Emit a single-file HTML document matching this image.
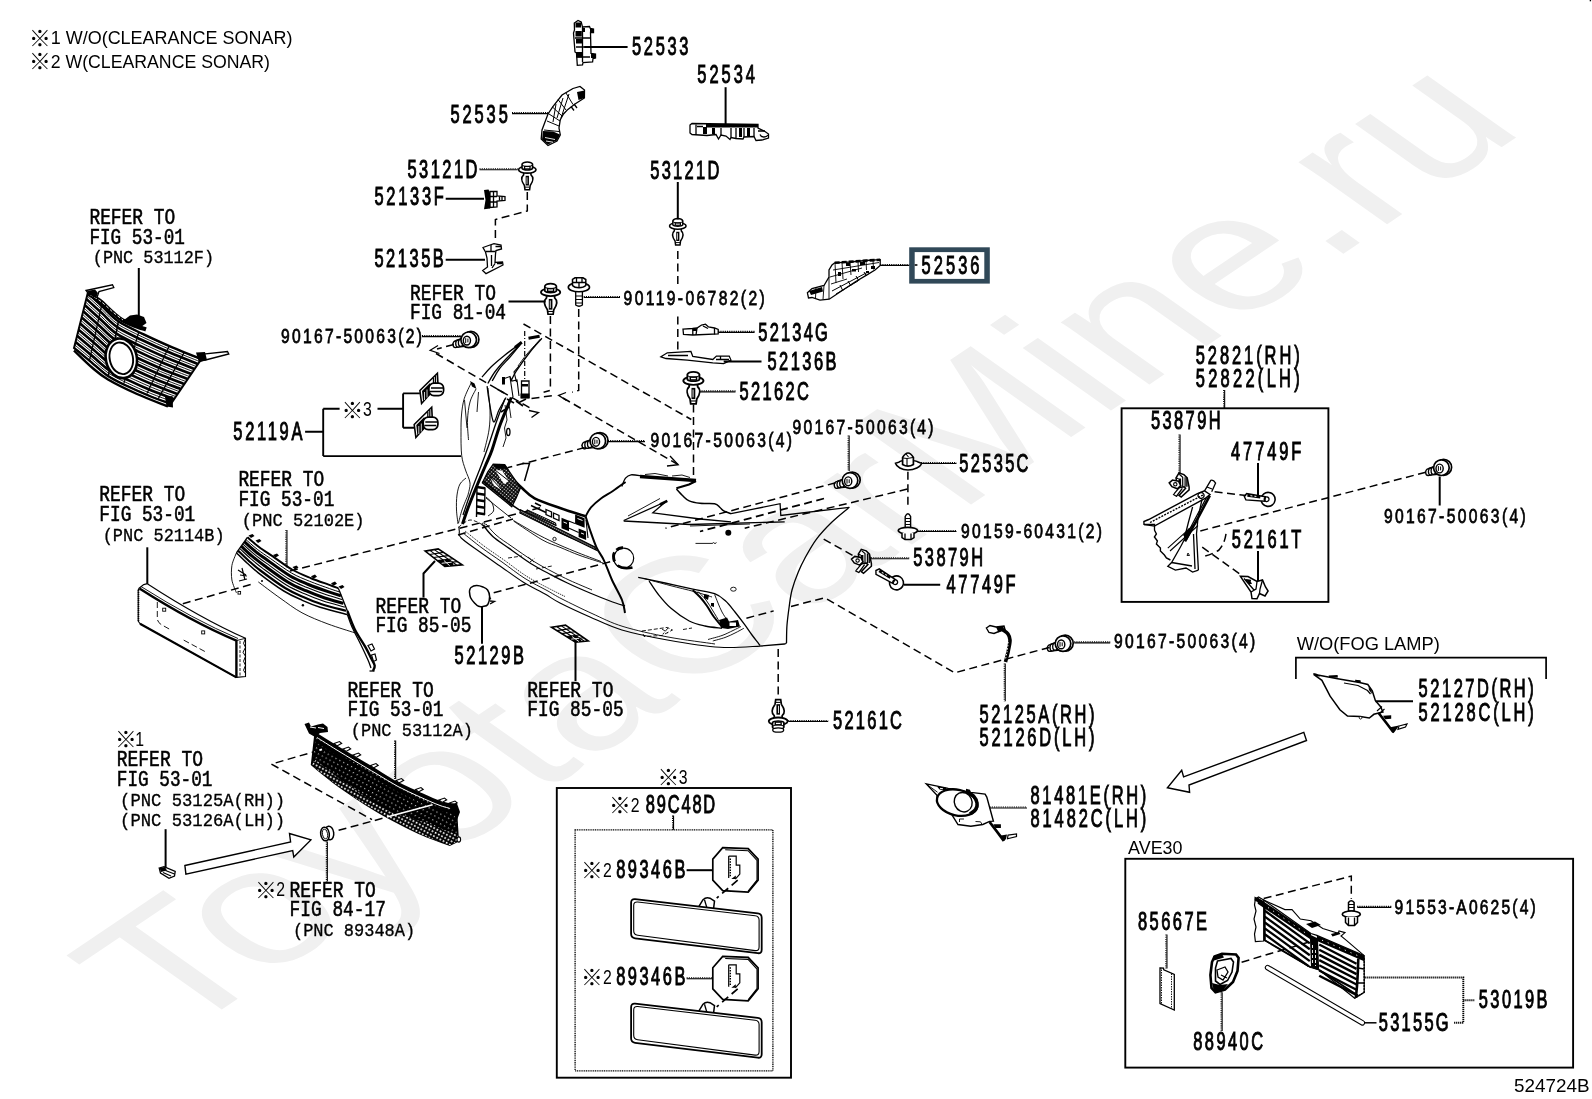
<!DOCTYPE html>
<html lang="en"><head><meta charset="utf-8"><title>524724B</title>
<style>
html,body{margin:0;padding:0;background:#fff}
body{width:1592px;height:1099px;overflow:hidden}
svg{display:block}
text{font-family:"Liberation Sans","Noto Sans CJK JP",sans-serif;fill:#000}
.wm{font-size:165px;fill:#f0f0f0}
.pn{font-size:24.9px;stroke:#000;stroke-width:1px}
.sn{font-size:20.6px;stroke:#000;stroke-width:.75px}
.rf{font-family:"Liberation Mono",monospace;font-size:21.6px;stroke:#000;stroke-width:.55px}
.pc{font-family:"Liberation Mono",monospace;font-size:18.6px;stroke:#000;stroke-width:.35px}
.ar{font-size:19px}
.km{font-size:21.8px;font-family:"Liberation Sans","Noto Sans CJK JP",sans-serif}
.kd{font-size:19.4px}
.l{fill:none;stroke:#000;stroke-width:1.3}
.t{fill:none;stroke:#000;stroke-width:.9}
.h{fill:none;stroke:#000;stroke-width:2}
.d{fill:none;stroke:#000;stroke-width:1.5;stroke-dasharray:8 4.5}
.dt{fill:none;stroke:#000;stroke-width:1.6;stroke-dasharray:1 1}
.f{fill:#000;stroke:none}
.lk{fill:none;stroke:#000;stroke-width:2}
.ld{fill:none;stroke:#000;stroke-width:1.9;stroke-dasharray:1.2 .8}
.ls{fill:none;stroke:#000;stroke-width:1.5}
.l1{fill:none;stroke:#000;stroke-width:1.1}
.l1d{fill:none;stroke:#000;stroke-width:1.1;stroke-dasharray:1.1 1.1}
.w{fill:#fff;stroke:#000;stroke-width:1.3}
</style></head>
<body>
<svg width="1592" height="1099" viewBox="0 0 1592 1099">
<rect width="1592" height="1099" fill="#fff"/>
<text class="wm" transform="translate(177.4,1039.3) scale(1.4486,1) rotate(-44.3)">ToyotaCarMine.ru</text>
<!-- boxes -->
<rect x="909.2" y="247.3" width="80.6" height="36.3" fill="#304858"/><rect x="914.7" y="252.1" width="69.6" height="26.8" fill="#fff"/><path d="M914.7 265H917.4" stroke="#000" stroke-width="1.6"/>
<rect class="l" x="1121.6" y="408.3" width="206.8" height="193.6" style="stroke-width:1.9"/>
<rect class="l" x="556.8" y="788" width="234.2" height="289.7" style="stroke-width:1.9"/>
<rect class="t" x="575.1" y="829.9" width="197.8" height="240.9" stroke-dasharray="1.1 .7" style="stroke-width:1.3"/>
<rect class="l" x="1125.3" y="858.8" width="447.8" height="208.8" style="stroke-width:1.9"/>
<path class="l" d="M1295.9 679V657.6H1546.1V679" style="stroke-width:1.7"/>

<rect x="1589.7" y="0" width="1.4" height="1.3" fill="#000"/>

<!-- sh_a -->
<clipPath id="cg"><path d="M87.8,292.8 C90.3,295.2 98.0,302.2 103.1,307.0 C108.2,311.7 111.7,316.6 118.4,321.1 C125.1,325.6 134.3,329.6 143.3,334.0 C152.3,338.3 162.7,343.1 172.4,347.2 C182.0,351.4 196.6,357.0 201.4,359.0 L170.8,404.1 C167.1,402.7 156.2,398.9 148.9,395.9 C141.6,392.9 133.8,389.5 127.0,386.2 C120.2,383.0 114.2,380.4 108.2,376.4 C102.2,372.4 96.8,367.0 91.1,362.2 C85.4,357.5 76.8,350.5 74.0,348.1 Z"/></clipPath>
<g clip-path="url(#cg)">
<path d="M87.8,292.8 C90.3,295.2 98.0,302.2 103.1,307.0 C108.2,311.7 111.7,316.6 118.4,321.1 C125.1,325.6 134.3,329.6 143.3,334.0 C152.3,338.3 162.7,343.1 172.4,347.2 C182.0,351.4 196.6,357.0 201.4,359.0 L170.8,404.1 C167.1,402.7 156.2,398.9 148.9,395.9 C141.6,392.9 133.8,389.5 127.0,386.2 C120.2,383.0 114.2,380.4 108.2,376.4 C102.2,372.4 96.8,367.0 91.1,362.2 C85.4,357.5 76.8,350.5 74.0,348.1 Z" fill="#fff"/>
<path class="l" d="M87.8,292.8 C90.3,295.2 98.0,302.2 103.1,307.0 C108.2,311.7 111.7,316.6 118.4,321.1 C125.1,325.6 134.3,329.6 143.3,334.0 C152.3,338.3 162.7,343.1 172.4,347.2 C182.0,351.4 196.6,357.0 201.4,359.0" style="stroke-width:2.7"/>
<path class="l" d="M87.0,295.9 C89.6,298.2 97.3,305.3 102.4,310.0 C107.6,314.7 111.2,319.7 117.8,324.2 C124.5,328.6 133.5,332.6 142.4,336.9 C151.3,341.2 161.5,345.8 171.0,349.9 C180.6,354.0 194.9,359.6 199.7,361.5" style="stroke-width:.9"/>
<path class="l" d="M86.3,298.9 C88.8,301.3 96.6,308.4 101.8,313.1 C106.9,317.8 110.6,322.8 117.3,327.2 C123.9,331.7 132.7,335.5 141.5,339.8 C150.2,344.0 160.3,348.6 169.7,352.6 C179.2,356.7 193.3,362.1 198.0,364.0" style="stroke-width:2.7"/>
<path class="l" d="M85.5,302.0 C88.1,304.4 95.9,311.4 101.1,316.2 C106.3,320.9 110.1,325.9 116.7,330.3 C123.3,334.7 132.0,338.5 140.6,342.7 C149.2,346.8 159.2,351.4 168.4,355.3 C177.7,359.3 191.7,364.7 196.3,366.5" style="stroke-width:.9"/>
<path class="l" d="M84.7,305.1 C87.3,307.4 95.2,314.5 100.4,319.2 C105.7,324.0 109.6,329.0 116.1,333.4 C122.7,337.8 131.2,341.5 139.7,345.6 C148.2,349.7 158.0,354.1 167.1,358.1 C176.3,362.0 190.0,367.2 194.6,369.0" style="stroke-width:2.7"/>
<path class="l" d="M84.0,308.2 C86.6,310.5 94.5,317.6 99.8,322.3 C105.0,327.0 109.1,332.1 115.6,336.5 C122.1,340.8 130.4,344.4 138.8,348.5 C147.1,352.5 156.8,356.9 165.8,360.8 C174.9,364.6 188.4,369.7 192.9,371.5" style="stroke-width:.9"/>
<path class="l" d="M83.2,311.2 C85.8,313.6 93.8,320.7 99.1,325.4 C104.4,330.1 108.5,335.2 115.0,339.5 C121.5,343.9 129.6,347.4 137.9,351.4 C146.1,355.4 155.6,359.7 164.5,363.5 C173.4,367.2 186.8,372.3 191.2,374.0" style="stroke-width:2.7"/>
<path class="l" d="M82.4,314.3 C85.1,316.7 93.1,323.7 98.4,328.5 C103.8,333.2 108.0,338.3 114.4,342.6 C120.9,346.9 128.8,350.4 137.0,354.3 C145.1,358.2 154.5,362.5 163.2,366.2 C172.0,369.9 185.1,374.8 189.5,376.5" style="stroke-width:.9"/>
<path class="l" d="M81.7,317.4 C84.3,319.7 92.4,326.8 97.8,331.5 C103.1,336.2 107.5,341.4 113.9,345.7 C120.2,350.0 128.0,353.3 136.0,357.2 C144.1,361.1 153.3,365.2 161.9,368.9 C170.5,372.5 183.5,377.3 187.8,379.0" style="stroke-width:2.7"/>
<path class="l" d="M80.9,320.4 C83.6,322.8 91.7,329.9 97.1,334.6 C102.5,339.3 107.0,344.5 113.3,348.8 C119.6,353.0 127.3,356.3 135.1,360.1 C143.0,363.9 152.1,368.0 160.6,371.6 C169.1,375.1 181.9,379.9 186.1,381.6" style="stroke-width:.9"/>
<path class="l" d="M80.1,323.5 C82.8,325.9 91.0,333.0 96.4,337.7 C101.9,342.4 106.4,347.6 112.7,351.8 C119.0,356.0 126.5,359.3 134.2,363.0 C142.0,366.7 151.0,370.8 159.3,374.3 C167.7,377.8 180.2,382.4 184.4,384.1" style="stroke-width:2.7"/>
<path class="l" d="M79.4,326.6 C82.1,329.0 90.3,336.0 95.8,340.7 C101.2,345.5 105.9,350.7 112.2,354.9 C118.4,359.1 125.7,362.2 133.3,365.9 C141.0,369.6 149.8,373.5 158.0,377.0 C166.2,380.4 178.6,385.0 182.7,386.6" style="stroke-width:.9"/>
<path class="l" d="M78.6,329.7 C81.3,332.0 89.6,339.1 95.1,343.8 C100.6,348.5 105.4,353.8 111.6,358.0 C117.8,362.1 124.9,365.2 132.4,368.8 C139.9,372.4 148.6,376.3 156.7,379.7 C164.8,383.1 177.0,387.5 181.0,389.1" style="stroke-width:2.7"/>
<path class="l" d="M77.8,332.7 C80.6,335.1 88.9,342.2 94.4,346.9 C100.0,351.6 104.9,356.9 111.0,361.0 C117.2,365.2 124.1,368.1 131.5,371.7 C138.9,375.3 147.4,379.1 155.4,382.4 C163.4,385.7 175.3,390.0 179.3,391.6" style="stroke-width:.9"/>
<path class="l" d="M77.1,335.8 C79.8,338.2 88.2,345.2 93.8,350.0 C99.3,354.7 104.3,360.0 110.5,364.1 C116.6,368.2 123.3,371.1 130.6,374.6 C137.9,378.1 146.3,381.8 154.1,385.1 C161.9,388.3 173.7,392.6 177.6,394.1" style="stroke-width:2.7"/>
<path class="l" d="M76.3,338.9 C79.1,341.2 87.5,348.3 93.1,353.0 C98.7,357.8 103.8,363.1 109.9,367.2 C116.0,371.3 122.6,374.1 129.7,377.5 C136.9,380.9 145.1,384.6 152.8,387.8 C160.5,391.0 172.1,395.1 175.9,396.6" style="stroke-width:.9"/>
<path class="l" d="M75.5,342.0 C78.3,344.3 86.8,351.4 92.4,356.1 C98.1,360.8 103.3,366.2 109.3,370.3 C115.4,374.3 121.8,377.0 128.8,380.4 C135.8,383.8 143.9,387.4 151.5,390.5 C159.1,393.6 170.4,397.7 174.2,399.1" style="stroke-width:2.7"/>
<path class="l" d="M74.8,345.0 C77.6,347.4 86.1,354.5 91.8,359.2 C97.4,363.9 102.7,369.3 108.8,373.3 C114.8,377.3 121.0,380.0 127.9,383.3 C134.8,386.6 142.8,390.2 150.2,393.2 C157.6,396.2 168.8,400.2 172.5,401.6" style="stroke-width:.9"/>
<path class="l" d="M74.0,348.1 C76.8,350.5 85.4,357.5 91.1,362.2 C96.8,367.0 102.2,372.4 108.2,376.4 C114.2,380.4 120.2,383.0 127.0,386.2 C133.8,389.5 141.6,392.9 148.9,395.9 C156.2,398.9 167.1,402.7 170.8,404.1" style="stroke-width:2.7"/>
<path class="l" d="M139.2,330.6 L123.9,383.3" style="stroke-width:1.2"/>
<path class="l" d="M169.9,344.6 L147.0,393.6" style="stroke-width:1.2"/>
<path class="l" d="M184.8,351.4 L158.3,398.6" style="stroke-width:1.2"/>
<path class="l" d="M118.4,321.1 L108.2,376.4" style="stroke-width:1.6"/>
<path class="l" d="M101.6,305.5 L89.4,360.8" style="stroke-width:1.2"/>
</g>
<path class="l" d="M87.8,292.8 C90.3,295.2 98.0,302.2 103.1,307.0 C108.2,311.7 111.7,316.6 118.4,321.1 C125.1,325.6 134.3,329.6 143.3,334.0 C152.3,338.3 162.7,343.1 172.4,347.2 C182.0,351.4 196.6,357.0 201.4,359.0 L170.8,404.1 C167.1,402.7 156.2,398.9 148.9,395.9 C141.6,392.9 133.8,389.5 127.0,386.2 C120.2,383.0 114.2,380.4 108.2,376.4 C102.2,372.4 96.8,367.0 91.1,362.2 C85.4,357.5 76.8,350.5 74.0,348.1 Z" style="stroke-width:2"/>
<path class="l" d="M88.5,294.0 C90.4,295.2 96.1,298.0 100.0,301.0 C103.9,304.0 108.3,308.8 112.0,312.0 C115.7,315.2 118.3,317.8 122.0,320.0 C125.7,322.2 130.0,323.9 134.0,325.5 C138.0,327.1 144.0,328.8 146.0,329.5" style="stroke-width:4.2"/>
<path class="" d="M90.0,294.5 C91.8,295.7 97.2,298.6 101.0,301.5 C104.8,304.4 109.3,309.1 113.0,312.2 C116.7,315.3 121.3,318.7 123.0,320.0" stroke="#fff" stroke-width=".9" fill="none" stroke-dasharray="3 2"/>
<path class="w" d="M86.0,290.5 L112.5,284.8 L113.8,287.6 L99.0,291.5 L97.0,297.5 L88.0,293.0 Z"/>
<path class="f" d="M87.0,291.0 L95.0,289.5 L98.0,293.0 L96.0,298.0 L89.0,294.0 Z"/>
<path class="w" d="M198.5,354.6 L227.5,351.5 L228.8,354.0 L205.5,360.0 L200.5,360.5 Z"/>
<path class="f" d="M196.0,352.5 L205.0,352.0 L207.0,360.0 L199.0,362.5 Z"/>
<path class="f" d="M124.0,320.0 L130.0,315.5 L137.0,314.5 L144.0,317.0 L146.5,323.0 L141.0,327.0 L130.0,325.5 Z"/>
<ellipse class="w" cx="121.3" cy="358.3" rx="15.5" ry="20" transform="rotate(-12 121.3 358.3)" style="stroke-width:2.6"/>
<ellipse class="w" cx="121.3" cy="358.3" rx="11.6" ry="16" transform="rotate(-12 121.3 358.3)" style="stroke-width:1.9"/>
<path class="l" d="M74.0,350.5 C77.0,353.3 86.3,362.7 92.0,367.5 C97.7,372.3 100.5,375.1 108.0,379.5 C115.5,383.9 127.0,389.5 137.0,394.0 C147.0,398.5 162.8,404.4 168.0,406.5" style="stroke-width:2.4"/>
<path class="f" d="M165.0,397.0 L172.5,396.0 L173.0,407.5 L166.5,406.5 Z"/>
<path class="lk" d="M138.8,268.0V323.0"/>
<path class="w" d="M578.0,20.5 L574.3,23.0 L574.5,30.0 L573.5,33.0 L575.0,52.0 L576.5,53.0 L577.3,65.4 L582.5,64.8 L583.0,62.5 L592.6,62.0 L593.0,58.5 L595.5,58.0 L595.5,54.0 L591.0,53.5 L590.5,32.5 L593.5,32.5 L593.5,29.0 L590.3,28.5 L589.5,26.5 L582.5,27.0 L581.2,22.0 Z"/>
<path class="l" d="M582.5,27V62 M575,38H590 M576,47H590 M577,57H590"/>
<rect class="f" x="575.5" y="22.5" width="5.5" height="5.0"/>
<rect class="f" x="575.5" y="31" width="6.2999999999999545" height="5.5"/>
<rect class="f" x="576" y="39" width="6" height="4.5"/>
<rect class="f" x="576" y="52" width="6" height="5.5"/>
<path class="f" d="M582,28h3v4h-3z M590,29h3.5v3.5h-3.5z M591,54h4.5v4h-4.5z"/>
<path class="lk" d="M584.3,47.0H627.6"/>
<path class="w" d="M573.0,88.5 L562.0,95.0 L552.7,106.9 L548.0,114.0 L545.0,122.0 L542.0,130.0 L541.2,139.0 L548.0,145.5 L557.0,141.0 L560.3,134.9 L559.0,128.0 L560.3,119.6 L563.5,114.0 L567.9,109.4 L575.0,104.0 L584.4,98.0 L584.5,90.0 L580.0,86.5 L573.0,88.5 Z"/>
<path class="l" d="M566,93L573,104.5 M558,99.5L566,110 M552.5,107L562,116 M549,114L560,121 M547,121L559,126 M556,104L553,122 M563,98 L557,118 M569,94L561,118 M544,130L559,131.5" style="stroke-width:1"/>
<path class="f" d="M577.0,92.0 L584.5,90.5 L584.5,98.0 L578.5,100.0 Z"/>
<path class="f" d="M543.0,131.0 L553.0,131.5 L560.0,134.5 L557.0,140.5 L548.0,144.5 L542.0,139.5 Z"/>
<path class="" d="M545,137.5L555,139.5 M546,141L553,142.2" stroke="#fff" stroke-width=".9" fill="none"/>
<path class="l" d="M574,104l3,4 M571,106.5l3,4"/>
<path class="l1" d="M512.0,113.65H548.7"/><path class="l1d" d="M512.0,112.65H548.7"/>
<path class="w" d="M690.0,125.0 L692.0,123.5 L758.0,124.5 L758.0,128.0 L765.0,131.5 L768.5,134.0 L768.5,138.0 L762.0,140.0 L756.0,140.5 L754.0,136.5 L744.0,137.0 L743.0,139.0 L736.0,138.5 L731.0,137.5 L730.0,139.5 L726.0,136.0 L721.0,135.0 L718.5,139.0 L716.0,134.5 L707.0,135.5 L692.0,134.5 L690.0,133.0 Z"/>
<path class="f" d="M706,124H758V127.5H706Z M703,127h4v7h-4z M712,128h3v6h-3z M739,128h3v9h-3z M747,128h3v8h-3z"/>
<path class="l" d="M696,124.5V134.5 M697,126.5H703 M721,128V135 M731,128V137.5 M736,128V138 M744,128V137 M754,128V136.5 M758,131H765 M760,134.5C761,137.5 766,138 768,135"/>
<path class="lk" d="M725.6,87.2V126.5"/>
<g transform="translate(527.3,169.5) scale(0.97)"><path class="w" d="M-3.6,2.5 L-3.8,5.5 C-6.6,8 -5.8,12.5 -3,16.5 L-2.4,20.8 L2.4,20.8 L3,16.5 C5.8,12.5 6.6,8 3.8,5.5 L3.6,2.5Z" style="stroke-width:1.6"/><path class="f" d="M-1.7,6.5 L-1.7,16.5 L1.7,16.5 L1.7,6.5Z"/><path d="M-0.3,8V15" stroke="#fff" stroke-width=".8"/><path class="l" d="M-2.4,18.2H2.4" style="stroke-width:1"/><ellipse class="w" cx="0" cy="0.2" rx="9" ry="3.6" style="stroke-width:1.7"/><path class="w" d="M-5.4,-1 L-5.4,-5.5 C-4,-8.6 4,-8.6 5.4,-5.5 L5.4,-1 C4,1 -4,1 -5.4,-1Z" style="stroke-width:1.6"/><rect class="w" x="-2.8" y="-3.2" width="5.6" height="2.6" style="stroke-width:1.3"/><path class="l" d="M-5.4,-4.5C-3,-2.5 3,-2.5 5.4,-4.5" style="stroke-width:1"/></g>
<path class="l1" d="M479.5,169.75H517.7"/><path class="l1d" d="M479.5,168.75H517.7"/>
<g transform="translate(550.6,292.0) scale(1.07)"><path class="w" d="M-3.6,2.5 L-3.8,5.5 C-6.6,8 -5.8,12.5 -3,16.5 L-2.4,20.8 L2.4,20.8 L3,16.5 C5.8,12.5 6.6,8 3.8,5.5 L3.6,2.5Z" style="stroke-width:1.6"/><path class="f" d="M-1.7,6.5 L-1.7,16.5 L1.7,16.5 L1.7,6.5Z"/><path d="M-0.3,8V15" stroke="#fff" stroke-width=".8"/><path class="l" d="M-2.4,18.2H2.4" style="stroke-width:1"/><ellipse class="w" cx="0" cy="0.2" rx="9" ry="3.6" style="stroke-width:1.7"/><path class="w" d="M-5.4,-1 L-5.4,-5.5 C-4,-8.6 4,-8.6 5.4,-5.5 L5.4,-1 C4,1 -4,1 -5.4,-1Z" style="stroke-width:1.6"/><rect class="w" x="-2.8" y="-3.2" width="5.6" height="2.6" style="stroke-width:1.3"/><path class="l" d="M-5.4,-4.5C-3,-2.5 3,-2.5 5.4,-4.5" style="stroke-width:1"/></g>
<path class="lk" d="M508.5,301.6H545.5"/>
<g transform="translate(677.8,225.8) scale(0.92)"><path class="w" d="M-3.6,2.5 L-3.8,5.5 C-6.6,8 -5.8,12.5 -3,16.5 L-2.4,20.8 L2.4,20.8 L3,16.5 C5.8,12.5 6.6,8 3.8,5.5 L3.6,2.5Z" style="stroke-width:1.6"/><path class="f" d="M-1.7,6.5 L-1.7,16.5 L1.7,16.5 L1.7,6.5Z"/><path d="M-0.3,8V15" stroke="#fff" stroke-width=".8"/><path class="l" d="M-2.4,18.2H2.4" style="stroke-width:1"/><ellipse class="w" cx="0" cy="0.2" rx="9" ry="3.6" style="stroke-width:1.7"/><path class="w" d="M-5.4,-1 L-5.4,-5.5 C-4,-8.6 4,-8.6 5.4,-5.5 L5.4,-1 C4,1 -4,1 -5.4,-1Z" style="stroke-width:1.6"/><rect class="w" x="-2.8" y="-3.2" width="5.6" height="2.6" style="stroke-width:1.3"/><path class="l" d="M-5.4,-4.5C-3,-2.5 3,-2.5 5.4,-4.5" style="stroke-width:1"/></g>
<path class="lk" d="M677.8,182.0V219.5"/>
<g transform="translate(693.4,380.6) scale(1.12)"><path class="w" d="M-3.6,2.5 L-3.8,5.5 C-6.6,8 -5.8,12.5 -3,16.5 L-2.4,20.8 L2.4,20.8 L3,16.5 C5.8,12.5 6.6,8 3.8,5.5 L3.6,2.5Z" style="stroke-width:1.6"/><path class="f" d="M-1.7,6.5 L-1.7,16.5 L1.7,16.5 L1.7,6.5Z"/><path d="M-0.3,8V15" stroke="#fff" stroke-width=".8"/><path class="l" d="M-2.4,18.2H2.4" style="stroke-width:1"/><ellipse class="w" cx="0" cy="0.2" rx="9" ry="3.6" style="stroke-width:1.7"/><path class="w" d="M-5.4,-1 L-5.4,-5.5 C-4,-8.6 4,-8.6 5.4,-5.5 L5.4,-1 C4,1 -4,1 -5.4,-1Z" style="stroke-width:1.6"/><rect class="w" x="-2.8" y="-3.2" width="5.6" height="2.6" style="stroke-width:1.3"/><path class="l" d="M-5.4,-4.5C-3,-2.5 3,-2.5 5.4,-4.5" style="stroke-width:1"/></g>
<path class="l1" d="M699.3,391.85H735.5"/><path class="l1d" d="M699.3,390.85H735.5"/>
<g transform="translate(778.2,721.5) rotate(180) scale(1.05)"><path class="w" d="M-3.6,2.5 L-3.8,5.5 C-6.6,8 -5.8,12.5 -3,16.5 L-2.4,20.8 L2.4,20.8 L3,16.5 C5.8,12.5 6.6,8 3.8,5.5 L3.6,2.5Z" style="stroke-width:1.6"/><path class="f" d="M-1.7,6.5 L-1.7,16.5 L1.7,16.5 L1.7,6.5Z"/><path d="M-0.3,8V15" stroke="#fff" stroke-width=".8"/><path class="l" d="M-2.4,18.2H2.4" style="stroke-width:1"/><ellipse class="w" cx="0" cy="0.2" rx="9" ry="3.6" style="stroke-width:1.7"/><path class="w" d="M-5.4,-1 L-5.4,-5.5 C-4,-8.6 4,-8.6 5.4,-5.5 L5.4,-1 C4,1 -4,1 -5.4,-1Z" style="stroke-width:1.6"/><rect class="w" x="-2.8" y="-3.2" width="5.6" height="2.6" style="stroke-width:1.3"/><path class="l" d="M-5.4,-4.5C-3,-2.5 3,-2.5 5.4,-4.5" style="stroke-width:1"/></g>
<ellipse class="w" cx="778.2" cy="730" rx="5.5" ry="2.2"/>
<path class="l1" d="M788.2,721.45H828.2"/><path class="l1d" d="M788.2,720.45H828.2"/>
<path class="f" d="M484.0,190.0 L488.5,189.5 L490.5,194.0 L490.0,208.5 L484.0,209.2 L485.5,200.0 Z"/>
<path class="w" d="M490.0,191.5 L497.0,191.5 L497.0,196.0 L505.0,196.5 L505.0,200.5 L497.0,201.0 L497.0,207.0 L490.0,207.5 Z"/>
<path class="l" d="M490,196.5H497 M490,202H497 M493.5,191.5V207 M499.5,196.5V200.5 M502,196.5V200.5"/>
<path class="lk" d="M445.7,198.8H484.0"/>
<path class="w" d="M483.0,247.5 L490.0,245.0 L494.0,243.6 L501.0,245.0 L501.5,249.0 L496.0,250.5 L495.5,254.0 L495.0,262.5 L502.5,262.0 L503.0,265.0 L486.0,273.6 L482.7,270.5 L487.5,267.0 L487.0,258.0 L485.5,252.0 Z"/>
<path class="l" d="M486,251.5H495.5 M491,245V251 M495.5,246.5H501 M491.5,255V266 M495,263.5L492,268 M497,263.5H502"/>
<path class="lk" d="M445.7,259.8H485.0"/>
<path class="w" d="M575.7,290 V305 Q579,307.5 582.4,305 V290Z"/>
<path class="l" d="M575.7,296H582.4 M575.7,299.5H582.4 M575.7,303H582.4" style="stroke-width:1"/>
<ellipse class="w" cx="578.9" cy="287.2" rx="10.6" ry="4.6" style="stroke-width:1.6"/>
<path class="w" d="M572.5,285.5 V279.5 L575,277.8 H583 L585.8,279.5 V285.5 C583,288.5 575,288.5 572.5,285.5Z" style="stroke-width:1.5"/>
<path class="l" d="M576.5,278V282.5H582V278 M572.5,282.5H576.5 M582,282.5H585.8 M579,282.5V287.5"/>
<path class="l1" d="M583.7,297.55H620.0"/><path class="l1d" d="M583.7,296.55H620.0"/>
<g transform="translate(469.7,339.4)"><path class="w" d="M-6,-1.5 L-13.5,1 L-16.8,4.6 L-14.5,8 L-5,7Z" style="stroke-width:1.3"/><ellipse class="w" cx="-14.3" cy="4.9" rx="2.4" ry="3.3" style="stroke-width:1.3"/><ellipse class="w" cx="-11.6" cy="4.2" rx="2.4" ry="3.5" style="stroke-width:1.3"/><ellipse class="w" cx="-8.9" cy="3.4" rx="2.4" ry="3.7" style="stroke-width:1.3"/><circle class="w" cx="1.2" cy="0" r="8" style="stroke-width:1.7"/><circle class="w" cx="-1" cy="0.4" r="7.8" style="stroke-width:1.7"/><ellipse class="l" cx="-2.8" cy="1.2" rx="3.6" ry="4.4" style="stroke-width:1.4"/><path class="l" d="M-4,-1.2 V3.6 M-1.8,-.8V3" style="stroke-width:1"/></g>
<path class="l1" d="M422.0,336.65H461.0"/><path class="l1d" d="M422.0,335.65H461.0"/>
<g transform="translate(598.8,440.6)"><path class="w" d="M-6,-1.5 L-13.5,1 L-16.8,4.6 L-14.5,8 L-5,7Z" style="stroke-width:1.3"/><ellipse class="w" cx="-14.3" cy="4.9" rx="2.4" ry="3.3" style="stroke-width:1.3"/><ellipse class="w" cx="-11.6" cy="4.2" rx="2.4" ry="3.5" style="stroke-width:1.3"/><ellipse class="w" cx="-8.9" cy="3.4" rx="2.4" ry="3.7" style="stroke-width:1.3"/><circle class="w" cx="1.2" cy="0" r="8" style="stroke-width:1.7"/><circle class="w" cx="-1" cy="0.4" r="7.8" style="stroke-width:1.7"/><ellipse class="l" cx="-2.8" cy="1.2" rx="3.6" ry="4.4" style="stroke-width:1.4"/><path class="l" d="M-4,-1.2 V3.6 M-1.8,-.8V3" style="stroke-width:1"/></g>
<path class="l1" d="M607.9,441.65H645.0"/><path class="l1d" d="M607.9,440.65H645.0"/>
<g transform="translate(851.0,480.1)"><path class="w" d="M-6,-1.5 L-13.5,1 L-16.8,4.6 L-14.5,8 L-5,7Z" style="stroke-width:1.3"/><ellipse class="w" cx="-14.3" cy="4.9" rx="2.4" ry="3.3" style="stroke-width:1.3"/><ellipse class="w" cx="-11.6" cy="4.2" rx="2.4" ry="3.5" style="stroke-width:1.3"/><ellipse class="w" cx="-8.9" cy="3.4" rx="2.4" ry="3.7" style="stroke-width:1.3"/><circle class="w" cx="1.2" cy="0" r="8" style="stroke-width:1.7"/><circle class="w" cx="-1" cy="0.4" r="7.8" style="stroke-width:1.7"/><ellipse class="l" cx="-2.8" cy="1.2" rx="3.6" ry="4.4" style="stroke-width:1.4"/><path class="l" d="M-4,-1.2 V3.6 M-1.8,-.8V3" style="stroke-width:1"/></g>
<path class="l1" d="M849.15,435.5V471.0"/><path class="l1d" d="M848.15,435.5V471.0"/>
<g transform="translate(1064.0,643.2)"><path class="w" d="M-6,-1.5 L-13.5,1 L-16.8,4.6 L-14.5,8 L-5,7Z" style="stroke-width:1.3"/><ellipse class="w" cx="-14.3" cy="4.9" rx="2.4" ry="3.3" style="stroke-width:1.3"/><ellipse class="w" cx="-11.6" cy="4.2" rx="2.4" ry="3.5" style="stroke-width:1.3"/><ellipse class="w" cx="-8.9" cy="3.4" rx="2.4" ry="3.7" style="stroke-width:1.3"/><circle class="w" cx="1.2" cy="0" r="8" style="stroke-width:1.7"/><circle class="w" cx="-1" cy="0.4" r="7.8" style="stroke-width:1.7"/><ellipse class="l" cx="-2.8" cy="1.2" rx="3.6" ry="4.4" style="stroke-width:1.4"/><path class="l" d="M-4,-1.2 V3.6 M-1.8,-.8V3" style="stroke-width:1"/></g>
<path class="l1" d="M1074.2,642.85H1110.2"/><path class="l1d" d="M1074.2,641.85H1110.2"/>
<g transform="translate(1442.4,467.3)"><path class="w" d="M-6,-1.5 L-13.5,1 L-16.8,4.6 L-14.5,8 L-5,7Z" style="stroke-width:1.3"/><ellipse class="w" cx="-14.3" cy="4.9" rx="2.4" ry="3.3" style="stroke-width:1.3"/><ellipse class="w" cx="-11.6" cy="4.2" rx="2.4" ry="3.5" style="stroke-width:1.3"/><ellipse class="w" cx="-8.9" cy="3.4" rx="2.4" ry="3.7" style="stroke-width:1.3"/><circle class="w" cx="1.2" cy="0" r="8" style="stroke-width:1.7"/><circle class="w" cx="-1" cy="0.4" r="7.8" style="stroke-width:1.7"/><ellipse class="l" cx="-2.8" cy="1.2" rx="3.6" ry="4.4" style="stroke-width:1.4"/><path class="l" d="M-4,-1.2 V3.6 M-1.8,-.8V3" style="stroke-width:1"/></g>
<path class="lk" d="M1439.7,476.5V505.5"/>
<path class="w" d="M807.4,292.8 L812.0,288.5 L824.0,285.5 L829.0,277.0 L829.0,270.0 L832.0,265.0 L834.7,262.8 L850.0,262.0 L866.0,260.5 L880.2,259.7 L880.2,265.5 L875.0,270.0 L867.4,274.6 L855.0,282.0 L843.0,290.0 L829.2,299.2 L820.0,300.2 L812.0,297.5 L808.5,298.0 Z"/>
<path class="l" d="M835,263L836,283 M842,262.5L843,279 M850,262L851,275 M858,261.5L858.5,272 M866,260.5L866.5,270 M873,260L873.5,269.5 M830,277L862,268 M831,284L847,279 M833,270L879,262.5 M829,277L829,299 M824,285.5L823,299.5 M816,287L815.5,298" style="stroke-width:.9"/>
<path class="f" d="M809.0,291.0 L822.0,287.0 L823.0,291.5 L811.0,295.0 Z"/>
<path class="f" d="M846,263h4v3h-4z M860,262h5v3h-5z M871,266h4v3h-4z M838,272h3v4h-3z M852,269h4v2.5h-4z M866,271h3v2h-3z"/>
<path class="l" d="M834.7,262.8L880.2,259.7" style="stroke-width:2.6" stroke-dasharray="5 2"/>
<path class="l" d="M832,291L868,272 M836,294L858,281 M840,285l3,6 M848,281l3,5 M856,276l3,5 M864,272l2.5,4" style="stroke-width:1"/>
<path class="l1" d="M880.2,265.45H909.3"/><path class="l1d" d="M880.2,264.45H909.3"/>
<path class="w" d="M683.0,329.2 L692.5,328.5 L697.0,328.0 L701.5,325.0 L705.5,324.2 L708.5,327.0 L714.5,328.0 L718.2,329.5 L718.2,334.0 L692.8,335.0 L683.5,334.5 Z"/>
<path class="l" d="M692.8,328.5V335 M697,328L696,335 M714.5,328V334.5 M703,326L708,328.5"/>
<path class="f" d="M692.8,328.5h4v2.5h-4z"/>
<path class="l1" d="M718.2,332.35H754.6"/><path class="l1d" d="M718.2,331.35H754.6"/>
<path class="w" d="M660.9,356.8 L667.3,352.8 L690.9,351.4 L692.8,356.5 L712.8,359.5 L716.4,356.1 L729.2,356.1 L731.0,360.1 L723.7,363.7 L712.8,362.8 L687.3,360.1 L666.0,358.5 Z"/>
<path class="l" d="M668,355.5H688 M716,359.5H729 M720.5,356.1V359.5"/>
<path class="lk" d="M723.7,361.4H761.5"/>
<!-- sh_b -->
<path class="d" d="M527.3,192V211L495.4,219.5V242"/>
<path class="d" d="M550.4,316V390.4L543.6,392.2"/>
<path class="d" d="M578.7,309V390.4L572.2,392.2"/>
<path class="d" d="M677.8,251V284.6 M677.8,316.4V351"/>
<path class="d" d="M523.5,324L691.3,419.5"/>
<path class="t" d="M524.7,331V382" stroke-dasharray="5 2 1 2" style="stroke-width:1.2"/>
<path class="d" d="M693.5,404.4V478.8"/>
<path class="d" d="M563,398L678.2,464.7"/>
<path class="l" d="M566,392.5L558.6,395.4L566.5,400.5 M670,456L678.2,464.7L667,466"/>
<path class="d" d="M531.5,398.4L555.6,395.4"/>
<path class="l" d="M529,410.5L538.5,412.5L531.5,417.5"/>
<path class="d" d="M453.8,344.5L437,349"/>
<path class="l" d="M438,345.5L430.2,350.3L439.5,353.5"/>
<path class="d" d="M436,353.5L531,408.5"/>
<path class="d" d="M584.8,447.6L507.4,467.7"/>
<path class="l" d="M522,463.5H529.5L524.5,481" style="stroke-width:1.5"/>
<path class="d" d="M182.8,603.7L253.7,583.7 M290,571L541.9,507.4"/>
<path class="d" d="M458,535L513,519"/>
<path class="d" d="M493.7,592.8L623.7,558.2"/>
<path class="d" d="M835.6,482.8L665.5,528.2"/>
<path class="d" d="M824,498.5L700,531.5" style="stroke-width:1.8"/>
<path class="d" d="M907.4,489.1L744.7,528.2"/>
<path class="d" d="M907.9,471.8V509"/>
<path class="d" d="M823.7,539.2L854.7,556.5"/>
<path class="d" d="M746.4,618.2L773.7,610.9 M791,606.4L824.6,597.8L954.7,672.8L1049.9,647.3"/>
<path class="d" d="M778.2,649.1V696.4"/>
<path class="d" d="M319.4,750.2L271.4,764.1L372,819.6 M338.6,830.3L432.6,804.7"/>
<path class="l" d="M521.8,342.3L515,347.5" style="stroke-width:3"/>
<path class="l" d="M521.5,342.7 C518.8,344.8 510.1,350.9 505.0,355.0 C499.9,359.1 494.8,363.3 491.0,367.0 C487.2,370.7 483.5,375.4 482.0,377.1"/>
<path class="l" d="M520.5,344.5 C518.1,346.9 510.3,354.4 506.0,359.0 C501.7,363.6 497.8,367.9 494.8,372.0 C491.8,376.1 489.0,381.6 487.8,383.5"/>
<path class="l" d="M519.5,345.5 C517.9,347.4 513.3,353.2 510.0,357.0 C506.7,360.8 502.9,364.2 499.9,368.2 C496.9,372.2 493.5,378.9 492.2,381.0"/>
<path class="l" d="M528.5,338.2L539.6,336.2" style="stroke-width:3"/>
<path class="l" d="M541.9,338.3 C539.9,340.6 534.2,346.6 530.0,352.0 C525.8,357.4 519.6,366.0 516.4,370.8 C513.2,375.6 511.9,379.3 511.0,381.0"/>
<path class="t" d="M540.5,339.0 C538.2,341.5 530.8,349.5 527.0,354.0 C523.2,358.5 519.5,364.0 518.0,366.0"/>
<path class="f" d="M470.0,381.0 L474.5,383.5 L476.5,389.0 L472.0,386.5 Z"/>
<path class="t" d="M471.2,382.9 C470.0,385.5 465.8,393.4 464.2,398.8 C462.6,404.2 462.0,409.5 461.5,415.0 C461.0,420.5 461.0,425.1 461.0,431.9 C461.0,438.6 460.9,449.1 461.7,455.5 C462.4,461.9 464.1,465.4 465.5,470.0 C466.9,474.6 469.6,478.8 470.0,483.0 C470.4,487.2 468.3,493.0 468.0,495.0"/>
<path class="t" d="M466.0,478.0 C465.0,479.0 461.5,481.2 460.0,484.0 C458.5,486.8 457.6,490.7 457.0,495.0 C456.4,499.3 456.3,505.2 456.5,510.0 C456.7,514.8 457.8,521.7 458.0,524.0"/>
<path class="t" d="M476.0,389.0 C475.0,391.2 471.4,396.8 470.0,402.0 C468.6,407.2 467.8,413.7 467.5,420.0 C467.2,426.3 468.3,436.7 468.5,440.0"/>
<path class="t" d="M478.5,392L477,412 M464.5,400L467,428"/>
<path class="l" d="M511.3,397.5 C509.4,402.1 503.2,416.2 500.0,425.0 C496.8,433.8 494.4,443.2 492.0,450.0 C489.6,456.8 488.2,459.2 485.5,465.5 C482.8,471.8 478.9,480.9 476.0,488.0 C473.1,495.1 470.2,502.0 468.0,508.0 C465.8,514.0 463.4,521.3 462.5,524.0" style="stroke-width:3"/>
<path class="l" d="M505.0,398.8 C503.5,402.8 498.8,415.0 496.0,423.0 C493.2,431.0 490.5,439.8 488.0,447.0 C485.5,454.2 483.9,458.5 481.0,466.0 C478.1,473.5 473.9,483.8 470.9,492.0 C467.9,500.2 464.3,511.2 463.0,515.0"/>
<path class="l" d="M487.1,386.1 C487.4,388.4 487.9,394.1 489.0,400.0 C490.1,405.9 491.8,420.0 493.5,421.7 C495.2,423.4 496.9,414.0 499.0,410.0 C501.1,406.0 504.8,399.6 506.0,397.5"/>
<path class="t" d="M488.0,388.0 C488.3,391.7 489.8,403.0 490.0,410.0 C490.2,417.0 490.0,423.0 489.0,430.0 C488.0,437.0 484.8,448.3 484.0,452.0"/>
<path class="w" d="M521.5,381H529V397.5H521.5Z"/>
<path class="f" d="M520.5,393.5H529.5V398.5H520.5Z M502,377H505V384.5H502Z M522,384h6v2.5h-6z"/>
<path class="l" d="M503,379L510,376.5L512,381L517,380L519,396 M510,377L513,397 M516.5,382L514,372L519,366" style="stroke-width:1.1"/>
<path class="l" d="M497,389L504,393 M507,399L514,403 M516,401L523,406 M518,403L526,399 M509,407L501,412" style="stroke-width:1.6"/>
<path class="t" d="M505,405L507,420L504.5,428L506,438L503,447 M509,404L511,418"/>
<ellipse class="l" cx="508.3" cy="432" rx="1.7" ry="3.6"/>
<path class="l" d="M498.2,464.6 C500.2,466.5 506.0,472.1 510.0,476.0 C514.0,479.9 517.9,484.3 522.0,488.0 C526.1,491.7 528.3,495.0 534.6,498.3 C540.9,501.6 551.5,505.0 560.0,508.0 C568.5,511.0 581.3,515.0 585.6,516.4" style="stroke-width:2.6"/>
<path class="l" d="M585.6,516.4 C586.3,518.7 588.2,524.8 590.0,530.0 C591.8,535.2 594.2,542.4 596.5,547.4 C598.8,552.4 601.2,554.7 603.8,560.1 C606.4,565.5 609.0,573.4 612.0,580.0 C615.0,586.6 619.8,594.5 622.0,600.0 C624.2,605.5 624.5,610.8 625.0,613.0" style="stroke-width:2"/>
<path class="l" d="M585.6,516.4 C586.5,514.9 588.4,510.4 591.0,507.4 C593.6,504.4 597.4,501.2 601.0,498.5 C604.6,495.8 608.8,493.8 612.9,491.0 C617.0,488.2 623.5,483.4 625.6,481.9" style="stroke-width:1.9"/>
<path class="l" d="M621.8,486.4 C622.4,485.0 624.0,480.1 625.5,478.2 C627.0,476.3 628.3,475.2 631.0,474.8 C633.7,474.4 640.1,475.8 641.9,476.0"/>
<path class="l" d="M640,476.5L668,478.5L696,480.5" style="stroke-width:3.4"/>
<path class="l" d="M696,481L689,484.5L676.4,488.2" style="stroke-width:2.2"/>
<path class="t" d="M645,474.5L655,473.5L668,476 M672,476L682,475L690,477.5"/>
<path class="l" d="M676.4,489.0 C677.5,490.2 680.9,494.0 683.0,496.0 C685.1,498.0 686.4,499.7 689.2,500.9 C692.0,502.1 695.8,502.8 700.0,503.3 C704.2,503.8 711.3,503.0 714.6,503.7 C717.9,504.4 718.5,506.3 720.0,507.5 C721.5,508.7 721.9,509.9 723.7,510.9 C725.5,511.9 729.8,513.2 731.0,513.7" style="stroke-width:1.5"/>
<path class="l" d="M731,513.7L780.1,503.7L780.8,515.5L849.3,507.3"/>
<path class="l" d="M623.7,520.5L666,501.5L652.8,512.8L700,519L731,521.9"/>
<path class="l" d="M660,504.5L667.3,500.9" style="stroke-width:2.6"/>
<path class="l" d="M623.7,521L690,524.5L784.7,521.9"/>
<path class="t" d="M628,516L660,498.5 M690,526L750,524"/>
<circle class="f" cx="728.3" cy="532.8" r="3"/>
<path class="t" d="M695.5,543.4H712 M712,543.6l1.5,-1 1.5,1 1.5,-1"/>
<ellipse class="t" cx="733.4" cy="589.2" rx="2.8" ry="2"/>
<path class="l" d="M849.3,507.3 C846.4,509.8 837.5,516.7 832.0,522.0 C826.5,527.3 821.0,533.1 816.5,539.1 C812.0,545.1 808.0,552.5 805.0,558.0 C802.0,563.5 800.5,566.6 798.3,571.9 C796.1,577.2 793.5,584.2 792.0,590.0 C790.5,595.8 790.0,600.7 789.2,606.5 C788.4,612.3 787.5,618.9 787.0,625.0 C786.5,631.1 786.6,639.9 786.5,642.9"/>
<path class="l" d="M786.5,642.5Q786.3,644 784.5,644L760.1,646.1"/>
<pattern id="xh" width="2.6" height="2.6" patternUnits="userSpaceOnUse" patternTransform="rotate(40)"><rect width="2.6" height="2.6" fill="#000"/><rect x=".7" y=".7" width="1.2" height="1.2" fill="#fff"/></pattern>
<pattern id="dt" width="2.2" height="2.2" patternUnits="userSpaceOnUse" patternTransform="rotate(27)"><rect width="2.2" height="2.2" fill="#000"/><rect x=".5" y=".5" width="1.2" height="1.2" fill="#fff"/></pattern>
<path class="" d="M487.8,471.8 L493.2,464.2 L504.7,464.7 L520.5,487.7 L516.2,498.1 L511.8,506.8 L482.3,482.8 Z" fill="url(#xh)" stroke="#000" stroke-width="1.2"/>
<path class="" d="M495.0,470.0 L502.0,470.5 L509.0,481.0 L504.0,484.0 Z" fill="#fff"/>
<path class="" d="M490.0,477.0 L496.0,481.5 L502.0,490.0 L494.0,485.5 Z" fill="#fff"/>
<path class="l" d="M495,470L509,481 M490,477L502,490" style="stroke-width:1"/>
<path class="f" d="M493.0,464.0 L505.0,464.5 L508.0,469.0 L496.0,468.5 Z"/>
<path class="l" d="M482.8,481.0 C485.7,483.3 494.1,490.3 500.0,495.0 C505.9,499.7 508.8,503.2 518.2,509.2 C527.6,515.2 543.6,524.6 556.4,531.0 C569.1,537.4 588.3,544.7 594.7,547.4" style="stroke-width:1.4"/>
<path class="t" d="M513.5,520.5 C517.1,522.6 528.2,529.3 535.0,533.0 C541.8,536.7 547.3,539.4 554.0,542.5 C560.7,545.6 567.2,548.3 575.0,551.5 C582.8,554.7 596.7,559.8 601.0,561.5"/>
<path class="" d="M520.5,509.7 L594.8,546.8 L596.5,550.3 L519.8,512.9 Z" fill="url(#dt)" stroke="#000" stroke-width="1.1"/>
<path class="" d="M527.1,509.8 L555.5,522.9 L556.2,525.7 L526.8,512.4 Z" fill="url(#dt)" stroke="#000" stroke-width="1"/>
<path class="l" d="M531,505.5L546,512.5 M535,503L541,506" style="stroke-width:1.6"/>
<path class="f" d="M561.5,517.7 L569.0,520.7 L569.0,531.2 L561.5,528.2 Z"/>
<path class="f" d="M575.1,514.4 L584.6,518.2 L584.6,527.7 L575.1,523.9 Z"/>
<path class="f" d="M578.6,528.6 L586.1,531.6 L586.1,540.1 L578.6,537.1 Z"/>
<path class="" d="M563.5,522l3.5,1.4 M577.5,518.5l5,2 M581,533l3,1.2" stroke="#fff" stroke-width="1" fill="none"/>
<path class="l" d="M546.0,509.5 L551.5,511.9 L551.5,517.0 L546.0,514.6 Z"/>
<path class="l" d="M553.5,513.0 L559.0,515.4 L559.0,520.5 L553.5,518.1 Z"/>
<path class="l" d="M568.6,521L575,523.5 M568.6,528L578.6,532.5 M586,520L588,538" style="stroke-width:1.1"/>
<path class="l" d="M477,486L476.5,517 M485,487.5L484.5,515" style="stroke-width:1.4"/>
<path class="l" d="M476.8,487.0L485,488.2" style="stroke-width:2.6"/>
<path class="l" d="M476.8,493.5L485,494.7" style="stroke-width:2.6"/>
<path class="l" d="M476.8,500.0L485,501.2" style="stroke-width:2.6"/>
<path class="l" d="M476.8,506.5L485,507.7" style="stroke-width:2.6"/>
<path class="l" d="M476.8,513.0L485,514.2" style="stroke-width:2.6"/>
<path class="t" d="M486.0,497.0 C487.0,498.0 490.8,500.7 492.0,503.0 C493.2,505.3 494.2,508.8 493.5,511.0 C492.8,513.2 488.9,515.2 488.0,516.0"/>
<path class="t" d="M486,498L511,518"/>
<path class="t" d="M459.0,526.6 C459.1,527.3 458.9,529.1 459.3,531.0 C459.7,532.9 457.8,534.5 461.2,538.0 C464.6,541.5 473.5,547.3 480.0,552.0 C486.5,556.7 492.8,561.0 500.0,566.0 C507.2,571.0 515.9,577.6 523.4,582.3 C530.9,587.0 538.9,590.5 545.0,594.0 C551.1,597.5 552.5,599.2 560.0,603.0 C567.5,606.8 579.7,612.5 590.0,617.0 C600.3,621.5 609.0,626.2 621.9,630.0 C634.8,633.8 651.0,637.1 667.4,640.0 C683.8,642.9 704.5,646.3 720.0,647.3 C735.5,648.3 753.4,646.3 760.1,646.1" style="stroke-width:1.1"/>
<path class="t" d="M463.0,533.0 C466.2,535.5 475.5,543.2 482.0,548.0 C488.5,552.8 494.8,556.9 502.0,562.0 C509.2,567.1 517.5,573.8 525.0,578.5 C532.5,583.2 540.8,587.1 547.0,590.5 C553.2,593.9 554.5,595.2 562.0,599.0 C569.5,602.8 581.8,608.9 592.0,613.5 C602.2,618.1 610.3,622.6 623.0,626.5 C635.7,630.4 652.7,634.1 668.0,637.0 C683.3,639.9 707.2,642.8 715.0,644.0"/>
<path class="t" d="M465.0,531.0 C468.2,533.5 477.5,541.2 484.0,546.0 C490.5,550.8 496.8,554.9 504.0,560.0 C511.2,565.1 519.5,571.8 527.0,576.5 C534.5,581.2 542.7,585.2 549.0,588.5 C555.3,591.8 562.3,595.2 565.0,596.5" stroke-dasharray="1.2 1"/>
<path class="l" d="M483.0,524.9 C484.6,526.8 488.4,532.5 492.8,536.4 C497.2,540.3 502.8,543.8 509.2,548.4 C515.6,553.0 524.2,559.3 531.1,563.7 C538.0,568.1 544.7,571.4 550.7,574.6 C556.8,577.8 560.9,579.9 567.4,583.0 C573.9,586.1 582.9,590.0 590.0,593.0 C597.1,596.0 604.2,598.8 610.0,601.0 C615.8,603.2 622.5,605.2 625.0,606.0"/>
<path class="t" d="M486.0,524.0 C487.7,525.8 491.7,531.2 496.0,535.0 C500.3,538.8 505.7,542.1 512.0,546.5 C518.3,550.9 527.2,557.2 534.0,561.5 C540.8,565.8 547.0,568.8 553.0,572.0 C559.0,575.2 563.5,577.5 570.0,580.5 C576.5,583.5 588.3,588.4 592.0,590.0"/>
<path class="t" d="M513.6,521.1 C518.3,524.2 534.3,535.3 542.0,539.7 C549.7,544.1 553.7,544.7 560.0,547.3 C566.3,549.9 572.8,552.9 580.0,555.5 C587.2,558.1 599.2,561.8 603.0,563.0"/>
<path class="t" d="M458.2,527.4 C460.2,526.2 465.9,520.4 470.0,520.0 C474.1,519.6 480.8,524.1 483.0,524.9" stroke-dasharray="4 2"/>
<circle class="t" cx="483.5" cy="524.5" r="1.6"/><circle class="t" cx="554.5" cy="539" r="1.7"/>
<path class="t" d="M508,558L522,556 M536,569L552,566 M530,562l5,-4 M528,557l6,5" stroke-dasharray="4 2"/>
<path class="t" d="M468.0,495.0 C467.0,497.5 463.6,505.3 462.0,510.0 C460.4,514.7 459.1,520.8 458.5,523.0"/>
<circle class="w" cx="623.7" cy="558.2" r="10" style="stroke-width:1.2"/>
<path class="l" d="M614.5,552.5Q612.5,556 614.5,561.5 M616.5,550Q619,547.5 623,547.8" style="stroke-width:3"/>
<path class="l" d="M617.5,565.5Q623,569.5 632.5,567.5" style="stroke-width:2.6"/>
<path class="l" d="M638.2,577.4 C642.7,578.3 655.9,581.0 665.0,583.0 C674.1,585.0 684.5,587.4 692.8,589.2 C701.1,591.0 709.1,591.7 714.6,593.7 C720.1,595.7 722.2,598.0 725.6,601.0 C729.0,604.0 731.8,608.0 735.0,612.0 C738.2,616.0 741.9,620.9 744.7,624.7 C747.5,628.5 749.4,631.5 752.0,635.0 C754.6,638.5 758.8,643.8 760.1,645.6"/>
<path class="t" d="M644.0,578.5 C648.3,579.7 661.7,583.3 670.0,585.5 C678.3,587.7 687.0,589.6 694.0,591.5 C701.0,593.4 709.0,596.1 712.0,597.0"/>
<path class="l" d="M649.1,581.0 C650.6,583.2 654.4,589.5 658.0,594.0 C661.6,598.5 665.8,603.8 671.0,608.3 C676.2,612.8 683.5,618.0 689.2,621.0 C694.9,624.0 699.5,624.8 705.0,626.0 C710.5,627.2 719.1,627.9 721.9,628.3"/>
<path class="l" d="M692.8,590.1 C694.0,591.2 697.6,594.4 700.0,597.0 C702.4,599.6 704.7,602.7 707.0,606.0 C709.3,609.3 711.5,613.6 714.0,617.0 C716.5,620.4 720.6,624.9 721.9,626.5" style="stroke-width:2"/>
<path class="t" d="M698.0,591.5 C699.3,592.9 703.5,596.8 706.0,600.0 C708.5,603.2 710.8,607.5 713.0,611.0 C715.2,614.5 718.0,619.3 719.0,621.0"/>
<path class="t" d="M714.6,594.5 C715.2,595.9 716.8,600.1 718.0,603.0 C719.2,605.9 720.5,609.2 722.0,612.0 C723.5,614.8 726.2,618.7 727.0,620.0"/>
<path class="f" d="M719.0,620.0 L727.0,617.5 L729.0,621.5 L738.0,620.0 L740.0,626.5 L728.0,629.0 L721.0,628.0 Z"/>
<path class="" d="M729.5,622.5h6.5v3.5h-6.5z" fill="#fff"/>
<path class="f" d="M704,594l5,1 -1,5 -4,-2z M711,603l3,0 0,4 -3,-1z"/>
<path class="t" d="M712.8,641.0 C714.8,640.4 721.3,638.8 725.0,637.5 C728.7,636.2 731.9,634.5 735.0,633.0 C738.1,631.5 742.3,629.1 743.8,628.3"/>
<path class="t" d="M708.0,639.5 C710.3,638.8 717.8,637.0 722.0,635.5 C726.2,634.0 729.8,632.0 733.0,630.5 C736.2,629.0 739.7,627.2 741.0,626.5"/>
<path class="t" d="M641.9,631L667.3,627.4L672.5,630L662,635.5L644,636.5Z M662,629l6,4 M668,628l-5,6" stroke-dasharray="4 2"/>
<path class="t" d="M683,629.5L692,628" stroke-dasharray="4 2"/>
<!-- sh_c -->
<path class="lk" d="M305.1,431.8H323.2 M323.2,408.8V456.1 M323.2,408.8H339.6 M377.5,408.8H403 M323.2,456.1H461.1 M403.1,393.4V427.8 M403.1,393.4H419.9 M403.1,427.8H414.2" style="stroke-width:1.9"/>
<path class="w" d="M419.9,390.5 L437.4,373.3 L438.0,385.0 L421.6,403.5 Z" style="stroke-width:1.6"/>
<path class="f" d="M422.0,391.0 L430.0,383.0 L431.0,393.5 L423.0,401.0 Z"/>
<path class="" d="M424.5,392V400 M427,389.5V397.5" stroke="#fff" stroke-width=".8" fill="none"/>
<path class="l" d="M433.5,378.0V384.0 M435.5,376.0V383.0"/>
<rect class="w" x="428.9" y="383.2" width="14.7" height="12.4" rx="5" style="stroke-width:1.7"/>
<path class="l" d="M431.0,388.0H443.0 M430.0,391.5H442.0"/>
<path class="w" d="M414.2,424.5 L431.7,407.3 L432.3,419.0 L415.9,437.5 Z" style="stroke-width:1.6"/>
<path class="f" d="M416.3,425.0 L424.3,417.0 L425.3,427.5 L417.3,435.0 Z"/>
<path class="" d="M418.8,426.0V434.0 M421.3,423.5V431.5" stroke="#fff" stroke-width=".8" fill="none"/>
<path class="l" d="M427.8,412.0V418.0 M429.8,410.0V417.0"/>
<rect class="w" x="423.2" y="417.2" width="14.7" height="12.4" rx="5" style="stroke-width:1.7"/>
<path class="l" d="M425.3,422.0H437.3 M424.3,425.5H436.3"/>
<path class="lk" d="M147.3,547.3V584.0"/>
<path class="w" d="M143.7,584.6L147.3,583.7Q200,618 245.5,638.3L245.5,676.5L236.4,677.4L140,623.7L138.2,621L138.2,590L139.1,588.2Z" style="stroke-width:1.1"/>
<path class="l" d="M139.5,588.5Q192,622 236.4,640.6V677.4" style="stroke-width:2.4"/>
<path class="l" d="M140,623.7L236.4,677.4" style="stroke-width:2.2"/>
<path class="l" d="M138.5,590V621" style="stroke-width:1.6" stroke-dasharray="1.2 .8"/>
<path class="t" d="M141,586.5Q194,620 238,638.5 M236.4,640.6L245.5,638.3"/>
<path class="t" d="M245.5,638.3l-2,5 2,4 -2.5,5 2.5,4 -2,5 2,4 -2,5 2,3" style="stroke-width:1"/>
<path class="t" d="M240,641V676" stroke-dasharray="3 1.5"/>
<rect class="t" x="162.7" y="608.2" width="3" height="3"/><rect class="t" x="201.7" y="630.9" width="3" height="3"/>
<path class="t" d="M157.3,602V619Q158,623 162,625L171,630 M183.7,640.1L207.3,652.8" stroke-dasharray="6 3"/>
<path class="l1" d="M286.95,530.0V567.5"/><path class="l1d" d="M285.95,530.0V567.5"/>
<path class="l" d="M247.4,537.3 C249.3,538.9 254.8,543.8 259.0,547.0 C263.2,550.2 267.2,552.6 272.8,556.4 C278.4,560.2 286.4,566.4 292.8,570.0 C299.2,573.6 304.6,575.6 311.0,578.2 C317.4,580.8 326.6,583.8 331.1,585.5 C335.7,587.2 337.1,587.8 338.3,588.2" style="stroke-width:2.0"/>
<path class="l" d="M245.8,539.5 C247.7,541.1 253.1,546.1 257.3,549.3 C261.4,552.5 265.0,554.8 270.7,558.7 C276.4,562.7 285.0,569.2 291.5,573.0 C298.0,576.8 303.4,578.7 309.7,581.3 C316.1,583.9 324.5,586.8 329.5,588.6 C334.5,590.4 337.9,591.4 339.6,592.0" style="stroke-width:1.0"/>
<path class="l" d="M244.3,541.7 C246.1,543.4 251.5,548.3 255.6,551.6 C259.6,554.8 262.9,557.0 268.7,561.1 C274.4,565.2 283.6,572.1 290.2,576.0 C296.9,579.9 302.1,581.8 308.4,584.5 C314.7,587.1 322.5,589.8 328.0,591.7 C333.4,593.6 338.7,595.1 340.9,595.7" style="stroke-width:3.0"/>
<path class="l" d="M242.7,543.9 C244.5,545.6 249.9,550.6 253.9,553.9 C257.8,557.1 260.7,559.2 266.6,563.4 C272.4,567.6 282.2,575.0 288.9,579.0 C295.7,583.0 300.9,584.9 307.1,587.6 C313.4,590.2 320.5,592.9 326.4,594.8 C332.2,596.8 339.6,598.7 342.2,599.5" style="stroke-width:1.1"/>
<path class="l" d="M241.1,546.2 C243.0,547.8 248.2,552.9 252.1,556.1 C256.0,559.4 258.6,561.5 264.5,565.8 C270.4,570.1 280.8,577.8 287.7,582.0 C294.5,586.2 299.7,588.1 305.9,590.7 C312.1,593.4 318.5,595.9 324.8,598.0 C331.1,600.1 340.4,602.4 343.5,603.3" style="stroke-width:3.0"/>
<path class="l" d="M239.5,548.4 C241.4,550.0 246.6,555.1 250.4,558.4 C254.2,561.7 256.5,563.7 262.4,568.1 C268.4,572.5 279.4,580.7 286.4,585.0 C293.4,589.3 298.4,591.2 304.6,593.8 C310.7,596.5 316.5,598.9 323.2,601.1 C329.9,603.3 341.2,606.1 344.8,607.1" style="stroke-width:1.1"/>
<path class="l" d="M238.0,550.6 C239.8,552.3 245.0,557.4 248.7,560.7 C252.4,564.0 254.3,565.9 260.4,570.5 C266.4,575.0 277.9,583.6 285.1,588.0 C292.2,592.4 297.2,594.3 303.3,597.0 C309.4,599.7 314.5,601.9 321.7,604.2 C328.8,606.5 342.0,609.7 346.1,610.8" style="stroke-width:2.2"/>
<path class="l" d="M236.4,552.8 C238.2,554.5 243.3,559.7 247.0,563.0 C250.7,566.3 252.2,568.1 258.3,572.8 C264.4,577.5 276.5,586.5 283.8,591.0 C291.1,595.5 295.9,597.4 302.0,600.1 C308.1,602.8 312.5,604.9 320.1,607.3 C327.7,609.7 342.8,613.4 347.4,614.6" style="stroke-width:1.5"/>
<path class="l" d="M247.4,537.3L236.4,552.8 M338.3,588.2L340.2,592.8L347.4,611"/>
<path class="f" d="M248.5,535.5l4,-1.6 2,2.2 -3.5,2z"/>
<path class="f" d="M255.5,540.5l4,-1.6 2,2.2 -3.5,2z"/>
<path class="f" d="M273.0,555.0l4,-1.6 2,2.2 -3.5,2z"/>
<path class="f" d="M292.5,567.0l4,-1.6 2,2.2 -3.5,2z"/>
<path class="f" d="M311.0,576.2l4,-1.6 2,2.2 -3.5,2z"/>
<path class="f" d="M331.0,583.2l4,-1.6 2,2.2 -3.5,2z"/>
<path class="f" d="M338.5,586.5l4,-1.6 2,2.2 -3.5,2z"/>
<path class="l" d="M347.4,611.0 C348.6,614.0 351.7,623.1 354.7,629.2 C357.7,635.3 362.9,642.6 365.6,647.4 C368.3,652.2 369.5,655.0 371.0,658.0 C372.5,661.0 374.4,663.4 374.7,665.6 C375.0,667.8 373.2,670.1 372.9,671.0" style="stroke-width:2.4"/>
<path class="l" d="M347.4,614.6 C348.2,616.7 349.7,621.9 352.0,627.0 C354.3,632.1 358.3,639.5 361.0,645.0 C363.7,650.5 366.3,656.2 368.0,660.0 C369.7,663.8 370.5,666.7 371.0,668.0"/>
<path class="w" d="M368,645.5l4,-1.5 2.5,5 -3.5,2z M371.5,655l3.5,-1 1.5,6 -3,1.5z" style="stroke-width:1.2"/>
<path class="l" d="M369.5,671H374.5"/>
<path class="t" d="M236.4,552.8 C235.7,554.9 232.7,561.0 231.9,565.5 C231.2,570.0 231.2,575.5 231.9,580.0 C232.7,584.5 235.7,590.7 236.4,592.8"/>
<path class="t" d="M258.3,581.9 C261.9,584.6 272.7,592.9 280.0,598.0 C287.3,603.1 294.0,608.5 302.0,612.8 C310.0,617.1 319.2,620.7 328.0,624.0 C336.8,627.3 350.2,631.3 354.7,632.8"/>
<path class="t" d="M238,570l8,5 M240,575l7,1 M239,581l8,-2 M242,568l3,12" style="stroke-width:1.2"/>
<rect class="t" x="238" y="591.5" width="2.6" height="2.6"/>
<circle class="f" cx="302.9" cy="605.2" r="1.2"/><circle class="f" cx="262" cy="581" r="1"/>
<path class="w" d="M425.1,551.1 L438.2,548.9 L462.3,564.8 L444.8,566.4 Z" style="stroke-width:1.6"/>
<path class="l" d="M430.2,550.6 L450.7,565.5" style="stroke-width:1.1"/>
<path class="l" d="M434.7,549.9 L456.6,565.0" style="stroke-width:1.1"/>
<path class="l" d="M429.4,554.5 L443.5,552.4" style="stroke-width:1.1"/>
<path class="l" d="M433.4,557.5 L448.3,555.6" style="stroke-width:1.1"/>
<path class="l" d="M437.3,560.6 L453.1,558.8" style="stroke-width:1.1"/>
<path class="l" d="M440.9,563.3 L457.5,561.6" style="stroke-width:1.1"/>
<path class="f" d="M437.3,560.6 L444.8,566.4 L453.6,565.6 L452.5,562.1 L448.4,559.3 Z"/>
<path class="" d="M443.9,560.5 L449.6,565.6 M441.7,563.3 L451.7,562.2" stroke="#fff" stroke-width=".9" fill="none"/>
<path class="lk" d="M435,561L423.5,573.5V597.5"/>
<path class="w" d="M551.4,627.3 L565.5,625.1 L588.3,641.0 L575.5,642.2 Z" style="stroke-width:1.6"/>
<path class="l" d="M556.9,626.8 L579.6,641.5" style="stroke-width:1.1"/>
<path class="l" d="M561.7,626.1 L584.0,641.0" style="stroke-width:1.1"/>
<path class="l" d="M556.7,630.6 L570.5,628.6" style="stroke-width:1.1"/>
<path class="l" d="M561.5,633.6 L575.1,631.8" style="stroke-width:1.1"/>
<path class="l" d="M566.3,636.5 L579.6,635.0" style="stroke-width:1.1"/>
<path class="l" d="M570.7,639.2 L583.7,637.8" style="stroke-width:1.1"/>
<path class="f" d="M566.3,636.5 L575.5,642.2 L581.9,641.6 L579.8,638.2 L575.6,635.4 Z"/>
<path class="" d="M572.1,636.6 L578.9,641.5 M571.3,639.1 L579.2,638.3" stroke="#fff" stroke-width=".9" fill="none"/>
<path class="lk" d="M575.5,641.9V681"/>
<path class="w" d="M469.4,591.0 C469.7,590.4 469.8,588.4 471.0,587.5 C472.2,586.6 474.5,585.6 476.5,585.5 C478.5,585.4 481.1,586.2 483.0,587.0 C484.9,587.8 486.5,588.4 487.6,590.0 C488.7,591.6 489.6,594.1 489.6,596.5 C489.6,598.9 488.9,602.8 487.8,604.5 C486.7,606.2 484.5,606.2 483.0,606.5 C481.5,606.8 480.0,606.9 478.6,606.3 C477.2,605.7 475.9,604.5 474.5,603.0 C473.1,601.5 471.4,599.5 470.5,597.5 C469.6,595.5 469.6,592.1 469.4,591.0" style="stroke-width:1.5"/>
<path class="f" d="M489.6,595.4L491.3,599L489.6,600Z"/>
<path class="l" d="M490,601L494.5,601.4L490,604"/>
<path class="lk" d="M482.0,606.3V643.7"/>
<pattern id="mesh" width="3.6" height="3.6" patternUnits="userSpaceOnUse" patternTransform="rotate(28)"><rect width="3.6" height="3.6" fill="#000"/><rect x=".8" y=".8" width="1.7" height="1.7" fill="#fff"/></pattern>
<pattern id="mesh2" width="4.4" height="4.4" patternUnits="userSpaceOnUse" patternTransform="rotate(28)"><rect width="4.4" height="4.4" fill="#000"/><rect x="1" y="1" width="1" height="1" fill="#fff"/></pattern>
<clipPath id="cm"><path d="M315.1,734.2 C318.2,736.2 327.6,742.1 334.0,746.0 C340.4,749.9 346.8,753.6 353.6,757.7 C360.4,761.8 367.9,766.2 375.0,770.5 C382.1,774.8 389.1,779.5 396.3,783.3 C403.5,787.1 410.9,790.3 418.0,793.5 C425.1,796.7 432.6,800.3 439.0,802.5 C445.4,804.7 453.2,806.1 456.1,806.8 L458.2,841 L449.7,845.2 L449.7,845.2 C445.1,843.5 430.2,838.0 422.4,834.7 C414.6,831.4 409.4,828.7 403.0,825.5 C396.6,822.3 390.5,819.2 384.2,815.6 C377.9,812.0 371.4,808.0 365.0,804.0 C358.6,800.0 351.3,795.1 346.0,791.4 C340.7,787.7 337.0,785.0 333.0,782.0 C329.0,779.0 325.6,776.4 322.0,773.5 C318.4,770.6 313.3,766.2 311.6,764.7 Z"/></clipPath>
<path d="M315.1,734.2 C318.2,736.2 327.6,742.1 334.0,746.0 C340.4,749.9 346.8,753.6 353.6,757.7 C360.4,761.8 367.9,766.2 375.0,770.5 C382.1,774.8 389.1,779.5 396.3,783.3 C403.5,787.1 410.9,790.3 418.0,793.5 C425.1,796.7 432.6,800.3 439.0,802.5 C445.4,804.7 453.2,806.1 456.1,806.8 L458.2,841 L449.7,845.2 L449.7,845.2 C445.1,843.5 430.2,838.0 422.4,834.7 C414.6,831.4 409.4,828.7 403.0,825.5 C396.6,822.3 390.5,819.2 384.2,815.6 C377.9,812.0 371.4,808.0 365.0,804.0 C358.6,800.0 351.3,795.1 346.0,791.4 C340.7,787.7 337.0,785.0 333.0,782.0 C329.0,779.0 325.6,776.4 322.0,773.5 C318.4,770.6 313.3,766.2 311.6,764.7 Z" fill="url(#mesh2)" stroke="#000" stroke-width="1.6"/>
<g clip-path="url(#cm)">
<path d="M311.6,764.7 C313.3,766.2 318.4,770.6 322.0,773.5 C325.6,776.4 329.0,779.0 333.0,782.0 C337.0,785.0 340.7,787.7 346.0,791.4 C351.3,795.1 358.6,800.0 365.0,804.0 C371.4,808.0 377.9,812.0 384.2,815.6 C390.5,819.2 396.6,822.3 403.0,825.5 C409.4,828.7 414.6,831.4 422.4,834.7 C430.2,838.0 445.1,843.5 449.7,845.2" fill="none" stroke="url(#mesh)" stroke-width="13"/>
<path d="M392.0,830.0 C396.3,831.3 407.2,834.3 417.7,838.0 C428.2,841.7 448.8,849.7 455.0,852.0" fill="none" stroke="url(#mesh)" stroke-width="34"/>
</g>
<path class="l" d="M315.1,734.2 C318.2,736.2 327.6,742.1 334.0,746.0 C340.4,749.9 346.8,753.6 353.6,757.7 C360.4,761.8 367.9,766.2 375.0,770.5 C382.1,774.8 389.1,779.5 396.3,783.3 C403.5,787.1 410.9,790.3 418.0,793.5 C425.1,796.7 432.6,800.3 439.0,802.5 C445.4,804.7 453.2,806.1 456.1,806.8" style="stroke-width:4"/>
<path class="" d="M317.0,737.5 C320.2,739.5 329.7,745.6 336.0,749.5 C342.3,753.4 348.2,756.9 355.0,761.0 C361.8,765.1 369.8,769.8 377.0,774.0 C384.2,778.2 391.0,782.8 398.0,786.5 C405.0,790.2 412.0,793.3 419.0,796.5 C426.0,799.7 434.0,803.3 440.0,805.5 C446.0,807.7 452.5,808.8 455.0,809.5" stroke="#fff" stroke-width="1" fill="none"/>
<path class="l" d="M316.0,741.0 C319.2,743.0 328.7,749.1 335.0,753.0 C341.3,756.9 347.2,760.4 354.0,764.5 C360.8,768.6 368.8,773.2 376.0,777.5 C383.2,781.8 390.0,786.2 397.0,790.0 C404.0,793.8 411.0,796.8 418.0,800.0 C425.0,803.2 432.7,806.8 439.0,809.0 C445.3,811.2 453.2,812.3 456.0,813.0" style="stroke-width:2.5"/>
<path class="f" d="M304.5,724.0 L309.0,722.5 L311.0,726.5 L318.0,724.5 L323.0,723.5 L327.5,727.0 L328.0,732.0 L320.0,733.0 L315.0,737.0 L309.0,733.5 Z"/>
<path class="" d="M310,727l6,1 M318,727.5l6,1" stroke="#fff" stroke-width="1" fill="none"/>
<path class="w" d="M334.0,743.5l5.5,-2 2.2,1.8 -4.6,2.6z" style="stroke-width:1.1"/>
<path class="w" d="M343.0,749.0l5.5,-2 2.2,1.8 -4.6,2.6z" style="stroke-width:1.1"/>
<path class="w" d="M353.0,755.0l5.5,-2 2.2,1.8 -4.6,2.6z" style="stroke-width:1.1"/>
<path class="w" d="M370.5,765.5l5.5,-2 2.2,1.8 -4.6,2.6z" style="stroke-width:1.1"/>
<path class="w" d="M396.0,780.5l5.5,-2 2.2,1.8 -4.6,2.6z" style="stroke-width:1.1"/>
<path class="w" d="M415.5,789.5l5.5,-2 2.2,1.8 -4.6,2.6z" style="stroke-width:1.1"/>
<path class="w" d="M439.0,800.0l5.5,-2 2.2,1.8 -4.6,2.6z" style="stroke-width:1.1"/>
<path class="w" d="M449.5,803.0l5.5,-2 2.2,1.8 -4.6,2.6z" style="stroke-width:1.1"/>
<path class="f" d="M447.0,803.0 L457.0,803.5 L460.0,812.0 L457.0,820.0 L452.0,812.0 Z"/>
<ellipse class="w" cx="458.8" cy="839.5" rx="1.8" ry="2.6" style="stroke-width:1.1"/>
<path class="" d="M432.6,804.7L387,817" stroke="#fff" stroke-width="1.6" fill="none"/>
<path class="" d="M319.4,750.2L322,749.4" stroke="#fff" stroke-width="1.8" fill="none"/>
<path class="l1" d="M395.65,740.6V779.0"/><path class="l1d" d="M394.65,740.6V779.0"/>
<ellipse class="w" cx="329.4" cy="833" rx="4.3" ry="6.8" transform="rotate(-8 329.4 833)" style="stroke-width:1.5"/>
<ellipse class="w" cx="325" cy="834" rx="4.3" ry="6.8" transform="rotate(-8 325 834)" style="stroke-width:1.5"/>
<ellipse class="t" cx="325" cy="834" rx="2.6" ry="4.8" transform="rotate(-8 325 834)"/>
<path class="l1" d="M327.35,841.5V881.6"/><path class="l1d" d="M326.35,841.5V881.6"/>
<path class="w" d="M184.9,865.5 L290.6,842.0 L289.5,833.5 L310.9,839.9 L293.8,857.0 L292.7,850.6 L185.9,874.1 Z" style="stroke-width:1.4"/>
<path class="lk" d="M165.6,829.2V868.7"/>
<path class="w" d="M159.2,868.0 L164.0,866.6 L175.2,871.5 L174.5,876.0 L169.0,878.3 L160.5,873.0 Z" style="stroke-width:1.3"/>
<path class="f" d="M159.5,868.0 L165.0,867.0 L167.0,870.5 L161.0,872.0 Z"/>
<path class="l" d="M163,872.5L171,876 M165.5,870.5L174.5,874"/>
<!-- sh_d -->
<path class="w" d="M895.5,463.2L899,462.2C900,460 916,460 918,462L921.5,463.2C921,467 914,470 908,470C902,470 896.5,467 895.5,463.2Z" style="stroke-width:1.6"/>
<path class="w" d="M902.6,464.5V457.5Q908,448.5 913.4,457.5V464.5Q908,467.8 902.6,464.5Z" style="stroke-width:1.7"/>
<path class="l" d="M907,458.5V466 M907,458.5L913,457.5 M903,458L907,458.5 M906,454l2.5,3" style="stroke-width:1.1"/>
<path class="l1" d="M921.1,463.55H956.5"/><path class="l1d" d="M921.1,462.55H956.5"/>
<path class="w" d="M905.2,528V516.5Q907.9,511 910.6,516.5V528Z" style="stroke-width:1.4"/>
<path class="l" d="M905.2,518.5H910.6 M905.2,521.5H910.6 M905.2,524.5H910.6" style="stroke-width:1"/>
<ellipse class="w" cx="907.9" cy="530.6" rx="9.6" ry="3.3" style="stroke-width:1.7"/>
<path class="w" d="M902,533V537.5L905,539.5H911L914,537.5V533" style="stroke-width:1.5"/>
<path class="l" d="M905,533.5V539.5 M911,533.5V539.5"/>
<path class="l1" d="M917.4,531.45H956.5"/><path class="l1d" d="M917.4,530.45H956.5"/>
<g transform="translate(862.8,560.1)"><path class="w" d="M-4.5,-5.9 L-1.5,-10.8 L3.4,-9.2 L6.7,-5.9 L8.6,3.4 L8.6,6.1 L0.7,13.2 L-1.5,11.6 L5.1,4.5 L3.6,3 L-3,4 Z" style="stroke-width:1.5"/><path class="f" d="M4,-6.5h1.2v9.4h-1.2z M5.7,-6h1.4v9h-1.4z M-2,-5.2h2.6v8h-2.6z"/><path class="l" d="M-1.2,-9.5L2.2,-6.5V3 M-4.5,-5.9L-2,-5" style="stroke-width:1.2"/><path class="w" d="M-11.3,-1 L-8,-3.7 L-2,-2.6 L0.2,1.8 L-3.1,5 L-8.6,2.9Z" style="stroke-width:1.5"/><circle class="l" cx="-5.2" cy="0.5" r="1.7" style="stroke-width:1.1"/><path class="l" d="M-7.5,10.5L-3.7,12.7 M-4.2,12.7L1.8,4.5 M-6.5,10L-1,3.5" style="stroke-width:1.3"/></g>
<path class="l1" d="M871.0,558.75H909.2"/><path class="l1d" d="M871.0,557.75H909.2"/>
<g transform="translate(1180.5,483.8)"><path class="w" d="M-4.5,-5.9 L-1.5,-10.8 L3.4,-9.2 L6.7,-5.9 L8.6,3.4 L8.6,6.1 L0.7,13.2 L-1.5,11.6 L5.1,4.5 L3.6,3 L-3,4 Z" style="stroke-width:1.5"/><path class="f" d="M4,-6.5h1.2v9.4h-1.2z M5.7,-6h1.4v9h-1.4z M-2,-5.2h2.6v8h-2.6z"/><path class="l" d="M-1.2,-9.5L2.2,-6.5V3 M-4.5,-5.9L-2,-5" style="stroke-width:1.2"/><path class="w" d="M-11.3,-1 L-8,-3.7 L-2,-2.6 L0.2,1.8 L-3.1,5 L-8.6,2.9Z" style="stroke-width:1.5"/><circle class="l" cx="-5.2" cy="0.5" r="1.7" style="stroke-width:1.1"/><path class="l" d="M-7.5,10.5L-3.7,12.7 M-4.2,12.7L1.8,4.5 M-6.5,10L-1,3.5" style="stroke-width:1.3"/></g>
<path class="l1" d="M1180.05,434.4V474.0"/><path class="l1d" d="M1179.05,434.4V474.0"/>
<g transform="translate(896.5,582.9) rotate(31)"><circle class="w" cx="0" cy="0" r="7" style="stroke-width:1.6"/><path class="w" d="M-3,-2.3 L-22,-3.2 L-24,0 L-22,3.2 L-3,2.3Z" style="stroke-width:1.4"/><path class="f" d="M-21,-3 L-8,-2.5 L-8,0 L-21,0Z"/><path d="M-18,-1.5H-16 M-14,-1.5H-12" stroke="#fff" stroke-width=".9"/><circle class="l" cx="-1.5" cy="0" r="2.4"/></g>
<path class="lk" d="M903.8,584.7H940.2"/>
<g transform="translate(1268.1,499.4) rotate(7)"><circle class="w" cx="0" cy="0" r="7" style="stroke-width:1.6"/><path class="w" d="M-3,-2.3 L-22,-3.2 L-24,0 L-22,3.2 L-3,2.3Z" style="stroke-width:1.4"/><path class="f" d="M-21,-3 L-8,-2.5 L-8,0 L-21,0Z"/><path d="M-18,-1.5H-16 M-14,-1.5H-12" stroke="#fff" stroke-width=".9"/><circle class="l" cx="-1.5" cy="0" r="2.4"/></g>
<path class="lk" d="M1258.0,463.0V495.6"/>
<path class="w" d="M986.4,628.0 L990.0,625.5 L996.0,627.0 L1004.0,626.0 L1005.0,629.5 L1000.0,631.0 L994.0,633.5 L989.0,632.5 Z" style="stroke-width:1.4"/>
<path class="f" d="M996.0,627.0 L1003.0,626.0 L1004.5,630.0 L998.5,632.5 Z"/>
<path class="l" d="M1003.0,630.0 C1003.8,630.7 1006.8,632.3 1008.0,634.0 C1009.2,635.7 1009.9,637.3 1010.0,640.0 C1010.1,642.7 1009.2,646.3 1008.5,650.0 C1007.8,653.7 1006.0,660.0 1005.5,662.0" style="stroke-width:3.6"/>
<path class="" d="M1008.3,642.0 C1008.1,643.7 1007.5,649.2 1007.0,652.0 C1006.5,654.8 1005.8,657.8 1005.5,659.0" stroke="#fff" stroke-width=".9" fill="none" stroke-dasharray="1.5 1.5"/>
<path class="l1" d="M1005.25,663.5V701.3"/><path class="l1d" d="M1004.25,663.5V701.3"/>
<path class="l1" d="M1224.65,390.0V408.0"/><path class="l1d" d="M1223.65,390.0V408.0"/>
<path class="l" d="M1204.1,491.7L1210.8,480.3Q1213.5,479.5 1215.6,483.1L1211.7,491.7"/>
<path class="l" d="M1207,487L1212,489"/>
<path class="w" d="M1197.4,493.7 L1204.5,490.8 L1210.0,494.5 L1206.0,497.8 L1154.4,526.1 L1144.0,524.5 L1143.9,521.5 L1148.7,519.5 Z" style="stroke-width:1.4"/>
<path class="t" d="M1150,522.5L1204,494.5" stroke-dasharray="2 1.2" style="stroke-width:1.4"/>
<path class="l" d="M1144,524.5H1154.5V530 M1201,492.5a3,3 0 1,0 .1,0"/>
<path class="t" d="M1154.4,530l2,4 -2,3 3,4 -1,3 4,4 0,3 4,4 2,3 4,2" style="stroke-width:1.4"/>
<path class="l" d="M1209.8,495.6L1198,518L1185,541.4" style="stroke-width:2.6"/>
<path class="l" d="M1206.5,497.5L1194,521L1181,546 M1192.6,507L1188.5,522L1184.5,538"/>
<path class="l" d="M1202,499.5L1198,518L1196.5,533.8L1198.4,570.1 M1193.5,534L1195,569"/>
<path class="l" d="M1196.5,522.3L1167.8,548.1 M1198,525.5L1170,551" style="stroke-width:1.1"/>
<path class="l" d="M1181,546L1171.6,562.5L1167.8,566.3L1175.4,570.1L1186,568L1192.6,572L1198.4,570.1 M1171.6,562.5L1192,566"/>
<path class="f" d="M1183,535l6,-7 3,3 -5,9z"/>
<path class="t" d="M1188,553l1.5,2.5 -2.5,0z"/>
<path class="d" d="M1214.6,491.7L1246.2,495.6"/>
<path class="d" d="M1200.3,530.9L1426,472.2"/>
<path class="d" d="M1202.2,547.2L1242.3,575.8"/>
<path class="d" d="M1226,533.8Q1224.5,544 1219,550Q1212,554.5 1202.2,556.7"/>
<path class="lk" d="M1258.0,551.0V581.6"/>
<path class="w" d="M1240.4,576.3 L1248.0,576.5 L1257.0,581.5 L1262.5,580.0 L1265.5,587.0 L1268.1,591.0 L1265.0,596.0 L1259.5,593.5 L1257.0,598.8 L1252.0,598.5 L1251.0,592.0 Z" style="stroke-width:1.5"/>
<path class="l" d="M1244,578.5L1254,590 M1257,581.5L1256,589L1251,592 M1262.5,580L1260,589L1259.5,593.5 M1246,580L1251,580.5"/>
<path class="f" d="M1245,579l5,1 2,4 -3,0z"/>
<path class="w" d="M1313.6,674.3 L1337.7,678.8 L1359.5,682.6 L1367.8,684.5 L1372.3,690.9 L1375.4,700.7 L1380.6,706.7 L1382.9,712.0 L1373.9,714.3 L1369.3,718.0 L1360.3,716.5 L1347.5,716.1 L1339.9,709.7 L1330.1,696.2 L1321.9,680.3 Z" style="stroke-width:1.5"/>
<path class="t" d="M1344,683L1358,685.5L1367.5,690.5L1370.5,694" style="stroke-width:1.2"/>
<path class="f" d="M1328.6,675.6l9,-.6 .3,2.4 -8.5,.6z M1355,679.8l5.5,.4 .5,2.6 -5.5,-1z M1312.8,673l4,.8 3.2,3 -4,-.8z M1368.5,687l3,3 .5,4 -3,-4z"/>
<path class="" d="M1360.5,716.5a1.3,1.3 0 1,0 .1,0" fill="#fff" stroke="#000" stroke-width=".9"/>
<path class="l" d="M1378.4,712.8L1386,722.5L1393.4,732.3" style="stroke-width:2.6"/>
<path class="l" d="M1377,711l5,-4.5 M1379.5,713.5l5,-4.5" style="stroke-width:1.1"/>
<path class="f" d="M1383,715.8l8.2,-.6 0,3.6 -6,.5z M1389,727.5l10,-2 -3,4.5 -2.5,3.3z"/>
<path class="w" d="M1399,726l8,-2 -1.5,3 -7.5,2.3z" style="stroke-width:1.2"/>
<path class="lk" d="M1375.6,701.3H1413.0"/>
<path class="w" d="M926.3,783.9 L948.2,788.4 L970.8,792.4 L985.1,794.1 L986.8,797.1 L993.4,821.2 L989.6,821.4 L982.8,824.5 L970.8,826.3 L958.0,824.5 L951.2,813.7 L938.0,803.0 L936.8,795.0 Z" style="stroke-width:1.4"/>
<ellipse class="w" cx="957.2" cy="802.6" rx="20.6" ry="12.8" transform="rotate(13 957.2 802.6)" style="stroke-width:2.3"/>
<ellipse class="w" cx="963.2" cy="802.2" rx="8.8" ry="9.9" transform="rotate(-25 963.2 802.2)" style="stroke-width:1.4"/>
<path class="l" d="M966.0,791.2 C967.2,792.0 971.7,794.0 973.5,796.0 C975.3,798.0 976.7,800.8 977.0,803.0 C977.3,805.2 976.7,807.7 975.5,809.5 C974.3,811.3 970.9,813.2 970.0,814.0" style="stroke-width:3.4"/>
<path class="f" d="M937,786.5l9,1 1.5,3.5 -8,-1.5z M966,788.8l4,1 1,3 -5,-1z"/>
<path class="" d="M940,788.3l3,.5" stroke="#fff" stroke-width="1" fill="none"/>
<path class="t" d="M926.5,784.2l11,8 M959.5,819h4.5 M959.5,819v3 M975.5,821.5l5,.3 1.5,2.5"/>
<path class="l" d="M989.6,822L996.5,831L1003.9,840.8" style="stroke-width:2.8"/>
<path class="f" d="M993.4,824.3h7.5v3.7h-5.5z M1001,835.5l6,-1 -1,4.5 -2,2z"/>
<path class="w" d="M1008,835.2l8.5,-1.3 0,2.6 -9,2.3z" style="stroke-width:1.2"/>
<path class="l1" d="M989.6,807.95H1027.0"/><path class="l1d" d="M989.6,806.95H1027.0"/>
<path class="w" d="M1303.8,732.4 L1183.6,776.9 L1181.7,770.2 L1167.4,787.7 L1189.6,792.3 L1189.0,785.0 L1306.5,740.5 Z" style="stroke-width:1.4"/>
<path class="l1" d="M673.55,815.6V829.7"/><path class="l1d" d="M672.55,815.6V829.7"/>
<path class="w" d="M722.7,847.7 L748.2,848.6 L758.1,859.1 L758.1,880.1 L748.2,892.1 L722.7,890.6 L712.8,880.1 L712.8,859.1 Z" style="stroke-width:1.7"/>
<path class="l" d="M725.2,849.8 L748.1,850.7 L757.0,860.4 L757.0,880.0 L748.1,891.1" style="stroke-width:1.1"/>
<path class="l" d="M728.7,856.1h7.5v9h3.6v9l-4.5,5 M728.7,856.1v22" style="stroke-width:1.2"/>
<path class="l" d="M730.3,858.6v18" stroke-dasharray="1.5 1.2" style="stroke-width:1.4"/>
<path class="f" d="M731.3,879.1l4.5,-3.6v3.6z"/>
<path class="lk" d="M686.6,870.2H712.8"/>
<path class="d" d="M737.7,880.1L716.7,898.1" style="stroke-width:1.7"/>
<path class="w" d="M698.5,907.2L703,899.7Q706,896.7 710,898.2L714.5,901.2L713.5,909.2Z" style="stroke-width:1.5"/>
<path class="l" d="M704.5,899.7L707,908.2"/>
<path class="w" d="M635.1,899.1 L757.7,913.4 Q761.7,913.8 761.7,917.8 L761.7,949.7 Q761.7,953.7 757.7,953.2 L635.1,938.3 Q631.1,937.8 631.1,933.8 L631.1,902.7 Q631.1,898.7 635.1,899.1Z" style="stroke-width:1.8"/>
<path class="w" d="M637.7,902.0 L755.1,915.7 Q759.1,916.1 759.1,920.1 L759.1,947.1 Q759.1,951.1 755.1,950.6 L637.7,935.2 Q633.7,934.7 633.7,930.7 L633.7,905.6 Q633.7,901.6 637.7,902.0Z" style="stroke-width:1.1"/>
<path class="w" d="M722.7,956.4 L748.2,957.3 L758.1,967.8 L758.1,988.8 L748.2,1000.8 L722.7,999.3 L712.8,988.8 L712.8,967.8 Z" style="stroke-width:1.7"/>
<path class="l" d="M725.2,958.5 L748.1,959.4 L757.0,969.1 L757.0,988.7 L748.1,999.8" style="stroke-width:1.1"/>
<path class="l" d="M728.7,964.8h7.5v9h3.6v9l-4.5,5 M728.7,964.8v22" style="stroke-width:1.2"/>
<path class="l" d="M730.3,967.3v18" stroke-dasharray="1.5 1.2" style="stroke-width:1.4"/>
<path class="f" d="M731.3,987.8l4.5,-3.6v3.6z"/>
<path class="l1" d="M686.6,978.75H712.8"/><path class="l1d" d="M686.6,977.75H712.8"/>
<path class="d" d="M737.7,988.8L716.7,1006.8" style="stroke-width:1.7"/>
<path class="w" d="M698.5,1011.7L703,1004.2Q706,1001.2 710,1002.7L714.5,1005.7L713.5,1013.7Z" style="stroke-width:1.5"/>
<path class="l" d="M704.5,1004.2L707,1012.7"/>
<path class="w" d="M635.1,1003.6 L757.7,1017.9 Q761.7,1018.3 761.7,1022.3 L761.7,1054.2 Q761.7,1058.2 757.7,1057.7 L635.1,1042.8 Q631.1,1042.3 631.1,1038.3 L631.1,1007.2 Q631.1,1003.2 635.1,1003.6Z" style="stroke-width:1.8"/>
<path class="w" d="M637.7,1006.5 L755.1,1020.2 Q759.1,1020.6 759.1,1024.6 L759.1,1051.6 Q759.1,1055.6 755.1,1055.1 L637.7,1039.7 Q633.7,1039.2 633.7,1035.2 L633.7,1010.1 Q633.7,1006.1 637.7,1006.5Z" style="stroke-width:1.1"/>
<path class="l1" d="M1166.95,934.5V968.6"/><path class="l1d" d="M1165.95,934.5V968.6"/>
<path class="w" d="M1160.0,968.0 L1163.5,968.2 L1163.8,969.8 L1174.3,974.5 L1174.3,1010.1 L1160.0,1003.6 Z" style="stroke-width:1.3"/>
<path class="t" d="M1171.5,973.5V1009 M1161.5,969.5V1004" stroke-dasharray="1.5 1"/>
<path class="w" d="M1214.5,956.5 L1222.0,953.8 L1236.0,954.5 L1238.6,958.0 L1237.5,971.0 L1233.0,982.0 L1225.0,989.5 L1215.5,992.3 L1211.5,988.0 L1210.4,975.0 L1212.0,962.0 Z" style="stroke-width:2.6"/>
<path class="l" d="M1217.5,961.0 L1231.0,958.5 L1233.5,962.0 L1232.0,972.0 L1227.5,980.5 L1220.0,984.5 L1215.5,981.0 L1215.5,968.0 Z" style="stroke-width:1.6"/>
<path class="l" d="M1217,970l8,-3 3,5 -5,8 -5,-3z M1221,975l6,3"/>
<path class="f" d="M1212.0,983.0 L1220.0,985.0 L1228.0,984.0 L1222.0,991.5 L1214.0,991.5 Z"/>
<path class="f" d="M1213,956.5l9,-2.5 2,3.5 -10,3z"/>
<path class="l1" d="M1222.15,992.3V1030.9"/><path class="l1d" d="M1221.15,992.3V1030.9"/>
<path class="w" d="M1263.7,900.0 L1311.0,933.5 L1316.9,935.4 L1364.2,955.7 L1364.2,992.3 L1354.7,998.3 L1319.2,969.9 L1311.0,967.5 L1264.8,940.3 Z" style="stroke-width:1.2"/>
<path class="w" d="M1255.4,898.9L1258.5,897L1263.7,900V941L1255.4,941.5L1254.5,934L1256,927L1254,919L1256,911L1254.5,905Z" style="stroke-width:1.2"/>
<path class="f" d="M1254.5,896.5l9,4.5 0,4 -9,-4.5z"/>
<path class="t" d="M1263.7,900.1L1284.9,909.6H1292L1300.3,919L1311,920.8L1322.8,928.5L1338.2,933.2L1339,931L1345,932.6L1341,936L1346.4,940.3L1364.2,955.7" style="stroke-width:1.1"/>
<path class="f" d="M1306,924l9,-2.5 6,3.5 -9,3z M1331,934l8,-2 1.5,2 -8,2.5z"/>
<path class="f" d="M1257.7,897.5 L1311.0,933.5 L1311.0,939.8 L1257.7,903.8 Z"/>
<path class="f" d="M1316.9,935.4 L1364.2,955.7 L1364.2,961.2 L1316.9,940.9 Z"/>
<path class="" d="M1268,907.5L1306,933.3 M1322,940.2L1360,956.6" stroke="#fff" stroke-width=".9" fill="none" stroke-dasharray="1.2 5"/>
<path class="l" d="M1264.8,910.7L1309.8,943.4" style="stroke-width:2.3"/>
<path class="l" d="M1264.8,916.6L1309.8,949.3" style="stroke-width:2.3"/>
<path class="l" d="M1264.8,922.5L1309.8,955.2" style="stroke-width:2.3"/>
<path class="l" d="M1264.8,928.4L1309.8,961.1" style="stroke-width:2.3"/>
<path class="l" d="M1264.8,934.3L1308.6,966.1" style="stroke-width:2.3"/>
<path class="l" d="M1319.2,944.5L1356.5,963.7" style="stroke-width:2.4"/>
<path class="l" d="M1319.2,949.7L1356.5,968.9" style="stroke-width:2.4"/>
<path class="l" d="M1319.2,954.9L1356.5,974.1" style="stroke-width:2.4"/>
<path class="l" d="M1319.2,960.1L1356.5,979.3" style="stroke-width:2.4"/>
<path class="l" d="M1319.2,965.3L1356.5,984.5" style="stroke-width:2.4"/>
<path class="l" d="M1319.2,970.5L1356.5,989.7" style="stroke-width:2.4"/>
<path class="l" d="M1319.2,975.7L1357.9,995.6" style="stroke-width:2.4"/>
<path class="l" d="M1264.8,903V940.3L1311,967.5 M1319.2,969.9L1354.7,993.5" style="stroke-width:1.8"/>
<path class="f" d="M1309.8,934.5 L1318.0,938.5 L1319.2,970.5 L1311.0,967.5 Z"/>
<path class="" d="M1312.5,945V963 M1315.5,950V966" stroke="#fff" stroke-width=".9" fill="none" stroke-dasharray="3 2"/>
<path class="l" d="M1358.3,958.5 C1358.2,960.8 1358.0,967.4 1357.8,972.0 C1357.6,976.6 1357.3,981.8 1357.0,986.0 C1356.7,990.2 1356.1,995.2 1355.9,997.1" style="stroke-width:2.6"/>
<path class="l" d="M1364.2,958V992.3L1354.7,998.3" style="stroke-width:1.3" stroke-dasharray="2 1"/>
<path class="l" d="M1358,968l6,1 M1358,983l6,0"/>
<path class="d" d="M1263.7,898.5L1351.3,876.1V898.9"/>
<path class="d" d="M1241.6,962.2L1311,941.5"/>
<path class="w" d="M1348.5,911V902.5Q1351.3,899 1354.1,902.5V911Z" style="stroke-width:1.5"/>
<path class="l" d="M1348.5,904.5H1354.1 M1348.5,907.5H1354.1" style="stroke-width:1"/>
<ellipse class="w" cx="1351.3" cy="914.2" rx="9" ry="3.2" style="stroke-width:1.7"/>
<path class="w" d="M1345.5,917V922.5L1348.5,925.6H1354.5L1357.5,922.5V917" style="stroke-width:1.5"/>
<path class="l" d="M1348.5,917.5V925.6 M1354.5,917.5V925.6"/>
<path class="l1" d="M1357.2,907.35H1391.3"/><path class="l1d" d="M1357.2,906.35H1391.3"/>
<path class="l" d="M1267.6,967.6L1362.3,1022.8" style="stroke-width:5.6;stroke-linecap:round"/>
<path class="" d="M1267.6,967.6L1362.3,1022.8" stroke="#fff" stroke-width="3.4" stroke-linecap="round" fill="none"/>
<path class="ls" d="M1364.6,1022.8H1376.5"/>
<path class="ld" d="M1364.6,977.5H1463.3V1022.8H1453.5 M1463.3,1000.3H1474.3"/>
<g opacity="0.999">
<text class="pn" transform="translate(632.0,54.5) scale(0.66,1)" textLength="85.6" lengthAdjust="spacing">52533</text>
<text class="pn" transform="translate(697.3,82.8) scale(0.66,1)" textLength="87.4" lengthAdjust="spacing">52534</text>
<text class="pn" transform="translate(450.5,122.9) scale(0.66,1)" textLength="86.8" lengthAdjust="spacing">52535</text>
<text class="pn" transform="translate(407.4,177.8) scale(0.66,1)" textLength="106.1" lengthAdjust="spacing">53121D</text>
<text class="pn" transform="translate(374.4,205.4) scale(0.66,1)" textLength="105.2" lengthAdjust="spacing">52133F</text>
<text class="pn" transform="translate(374.4,267.0) scale(0.66,1)" textLength="105.2" lengthAdjust="spacing">52135B</text>
<text class="pn" transform="translate(650.2,179.0) scale(0.66,1)" textLength="104.8" lengthAdjust="spacing">53121D</text>
<text class="pn" transform="translate(921.6,274.4) scale(0.66,1)" textLength="87.7" lengthAdjust="spacing">52536</text>
<text class="pn" transform="translate(758.3,340.7) scale(0.66,1)" textLength="105.3" lengthAdjust="spacing">52134G</text>
<text class="pn" transform="translate(767.4,370.0) scale(0.66,1)" textLength="104.8" lengthAdjust="spacing">52136B</text>
<text class="pn" transform="translate(739.4,399.7) scale(0.66,1)" textLength="105.2" lengthAdjust="spacing">52162C</text>
<text class="pn" transform="translate(233.3,440.4) scale(0.66,1)" textLength="104.7" lengthAdjust="spacing">52119A</text>
<text class="pn" transform="translate(959.3,472.0) scale(0.66,1)" textLength="104.8" lengthAdjust="spacing">52535C</text>
<text class="pn" transform="translate(913.2,566.0) scale(0.66,1)" textLength="105.8" lengthAdjust="spacing">53879H</text>
<text class="pn" transform="translate(946.5,593.3) scale(0.66,1)" textLength="104.8" lengthAdjust="spacing">47749F</text>
<text class="pn" transform="translate(454.5,664.3) scale(0.66,1)" textLength="105.2" lengthAdjust="spacing">52129B</text>
<text class="pn" transform="translate(833.0,729.3) scale(0.66,1)" textLength="104.5" lengthAdjust="spacing">52161C</text>
<text class="pn" transform="translate(979.5,722.6) scale(0.66,1)" textLength="174.2" lengthAdjust="spacing">52125A(RH)</text>
<text class="pn" transform="translate(979.5,746.4) scale(0.66,1)" textLength="174.2" lengthAdjust="spacing">52126D(LH)</text>
<text class="pn" transform="translate(1195.7,364.3) scale(0.66,1)" textLength="157.6" lengthAdjust="spacing">52821(RH)</text>
<text class="pn" transform="translate(1195.7,386.9) scale(0.66,1)" textLength="157.6" lengthAdjust="spacing">52822(LH)</text>
<text class="pn" transform="translate(1150.9,429.0) scale(0.66,1)" textLength="105.6" lengthAdjust="spacing">53879H</text>
<text class="pn" transform="translate(1231.0,459.6) scale(0.66,1)" textLength="106.7" lengthAdjust="spacing">47749F</text>
<text class="pn" transform="translate(1231.7,547.8) scale(0.66,1)" textLength="105.6" lengthAdjust="spacing">52161T</text>
<text class="pn" transform="translate(1418.6,696.6) scale(0.66,1)" textLength="174.4" lengthAdjust="spacing">52127D(RH)</text>
<text class="pn" transform="translate(1418.6,720.9) scale(0.66,1)" textLength="174.4" lengthAdjust="spacing">52128C(LH)</text>
<text class="pn" transform="translate(1030.5,803.8) scale(0.66,1)" textLength="175.5" lengthAdjust="spacing">81481E(RH)</text>
<text class="pn" transform="translate(1030.5,827.3) scale(0.66,1)" textLength="175.5" lengthAdjust="spacing">81482C(LH)</text>
<text class="pn" transform="translate(645.8,813.2) scale(0.66,1)" textLength="105.2" lengthAdjust="spacing">89C48D</text>
<text class="pn" transform="translate(616.2,878.0) scale(0.66,1)" textLength="104.8" lengthAdjust="spacing">89346B</text>
<text class="pn" transform="translate(616.2,985.2) scale(0.66,1)" textLength="104.8" lengthAdjust="spacing">89346B</text>
<text class="pn" transform="translate(1137.9,929.7) scale(0.66,1)" textLength="104.7" lengthAdjust="spacing">85667E</text>
<text class="pn" transform="translate(1193.2,1049.5) scale(0.66,1)" textLength="105.8" lengthAdjust="spacing">88940C</text>
<text class="pn" transform="translate(1378.8,1031.0) scale(0.66,1)" textLength="105.8" lengthAdjust="spacing">53155G</text>
<text class="pn" transform="translate(1478.8,1007.5) scale(0.66,1)" textLength="104.2" lengthAdjust="spacing">53019B</text>
<text class="sn" transform="translate(623.6,304.7) scale(0.76,1)" textLength="185.7" lengthAdjust="spacing">90119-06782(2)</text>
<text class="sn" transform="translate(281.0,343.4) scale(0.76,1)" textLength="185.5" lengthAdjust="spacing">90167-50063(2)</text>
<text class="sn" transform="translate(650.5,446.8) scale(0.76,1)" textLength="186.2" lengthAdjust="spacing">90167-50063(4)</text>
<text class="sn" transform="translate(792.6,434.0) scale(0.76,1)" textLength="185.5" lengthAdjust="spacing">90167-50063(4)</text>
<text class="sn" transform="translate(961.0,537.7) scale(0.76,1)" textLength="185.5" lengthAdjust="spacing">90159-60431(2)</text>
<text class="sn" transform="translate(1383.9,523.2) scale(0.76,1)" textLength="186.6" lengthAdjust="spacing">90167-50063(4)</text>
<text class="sn" transform="translate(1113.9,647.8) scale(0.76,1)" textLength="186.1" lengthAdjust="spacing">90167-50063(4)</text>
<text class="sn" transform="translate(1394.6,913.9) scale(0.76,1)" textLength="185.8" lengthAdjust="spacing">91553-A0625(4)</text>
<text class="rf" x="89.4" y="223.5" textLength="85.9" lengthAdjust="spacingAndGlyphs">REFER TO</text>
<text class="rf" x="89.4" y="243.6" textLength="95.5" lengthAdjust="spacingAndGlyphs">FIG 53-01</text>
<text class="rf" x="410.0" y="299.7" textLength="86.0" lengthAdjust="spacingAndGlyphs">REFER TO</text>
<text class="rf" x="410.0" y="319.0" textLength="96.0" lengthAdjust="spacingAndGlyphs">FIG 81-04</text>
<text class="rf" x="238.4" y="486.2" textLength="85.8" lengthAdjust="spacingAndGlyphs">REFER TO</text>
<text class="rf" x="238.4" y="505.7" textLength="95.9" lengthAdjust="spacingAndGlyphs">FIG 53-01</text>
<text class="rf" x="99.3" y="501.4" textLength="85.9" lengthAdjust="spacingAndGlyphs">REFER TO</text>
<text class="rf" x="99.3" y="520.9" textLength="96.0" lengthAdjust="spacingAndGlyphs">FIG 53-01</text>
<text class="rf" x="375.4" y="612.5" textLength="85.9" lengthAdjust="spacingAndGlyphs">REFER TO</text>
<text class="rf" x="375.4" y="631.7" textLength="96.0" lengthAdjust="spacingAndGlyphs">FIG 85-05</text>
<text class="rf" x="347.5" y="696.6" textLength="86.2" lengthAdjust="spacingAndGlyphs">REFER TO</text>
<text class="rf" x="347.5" y="716.2" textLength="95.9" lengthAdjust="spacingAndGlyphs">FIG 53-01</text>
<text class="rf" x="527.3" y="696.6" textLength="86.1" lengthAdjust="spacingAndGlyphs">REFER TO</text>
<text class="rf" x="527.3" y="716.2" textLength="96.3" lengthAdjust="spacingAndGlyphs">FIG 85-05</text>
<text class="rf" x="116.8" y="766.2" textLength="86.2" lengthAdjust="spacingAndGlyphs">REFER TO</text>
<text class="rf" x="116.8" y="786.0" textLength="95.6" lengthAdjust="spacingAndGlyphs">FIG 53-01</text>
<text class="rf" x="289.6" y="896.8" textLength="86.2" lengthAdjust="spacingAndGlyphs">REFER TO</text>
<text class="rf" x="289.6" y="916.2" textLength="96.3" lengthAdjust="spacingAndGlyphs">FIG 84-17</text>
<text class="pc" x="92.8" y="263.0" textLength="121.2" lengthAdjust="spacingAndGlyphs">(PNC 53112F)</text>
<text class="pc" x="241.8" y="525.6" textLength="122.8" lengthAdjust="spacingAndGlyphs">(PNC 52102E)</text>
<text class="pc" x="102.7" y="541.4" textLength="121.9" lengthAdjust="spacingAndGlyphs">(PNC 52114B)</text>
<text class="pc" x="350.8" y="736.2" textLength="122.2" lengthAdjust="spacingAndGlyphs">(PNC 53112A)</text>
<text class="pc" x="120.1" y="805.8" textLength="165.1" lengthAdjust="spacingAndGlyphs">(PNC 53125A(RH))</text>
<text class="pc" x="120.1" y="825.6" textLength="165.1" lengthAdjust="spacingAndGlyphs">(PNC 53126A(LH))</text>
<text class="pc" x="293.0" y="935.7" textLength="122.1" lengthAdjust="spacingAndGlyphs">(PNC 89348A)</text>
<text class="ar" x="50.7" y="44.1" textLength="241.8" lengthAdjust="spacingAndGlyphs">1 W/O(CLEARANCE SONAR)</text>
<text class="ar" x="50.7" y="67.7" textLength="219.3" lengthAdjust="spacingAndGlyphs">2 W(CLEARANCE SONAR)</text>
<text class="ar" x="1296.7" y="649.5" textLength="143.1" lengthAdjust="spacingAndGlyphs">W/O(FOG LAMP)</text>
<text class="ar" x="1128.1" y="853.5" textLength="54.4" lengthAdjust="spacingAndGlyphs">AVE30</text>
<text class="ar" x="1514.0" y="1092.4" textLength="75.5" lengthAdjust="spacingAndGlyphs">524724B</text>
<text class="km" x="28.9" y="45.8">※</text>
<text class="km" x="28.9" y="69.3">※</text>
<text class="km" x="341.4" y="417.5">※</text>
<text class="kd" x="363.1" y="416.4" textLength="8.8" lengthAdjust="spacingAndGlyphs">3</text>
<text class="km" x="114.9" y="747.3">※</text>
<text class="kd" x="135.3" y="746.2" textLength="8.8" lengthAdjust="spacingAndGlyphs">1</text>
<text class="km" x="255.1" y="897.5">※</text>
<text class="kd" x="276.3" y="896.4" textLength="8.8" lengthAdjust="spacingAndGlyphs">2</text>
<text class="km" x="657.6" y="785.2">※</text>
<text class="kd" x="678.7" y="784.1" textLength="8.8" lengthAdjust="spacingAndGlyphs">3</text>
<text class="km" x="608.9" y="813.4">※</text>
<text class="kd" x="630.7" y="812.3" textLength="8.8" lengthAdjust="spacingAndGlyphs">2</text>
<text class="km" x="581.1" y="878.0">※</text>
<text class="kd" x="602.9" y="876.9" textLength="8.8" lengthAdjust="spacingAndGlyphs">2</text>
<text class="km" x="581.1" y="985.0">※</text>
<text class="kd" x="602.9" y="983.9" textLength="8.8" lengthAdjust="spacingAndGlyphs">2</text>
</g>
</svg>
</body></html>
